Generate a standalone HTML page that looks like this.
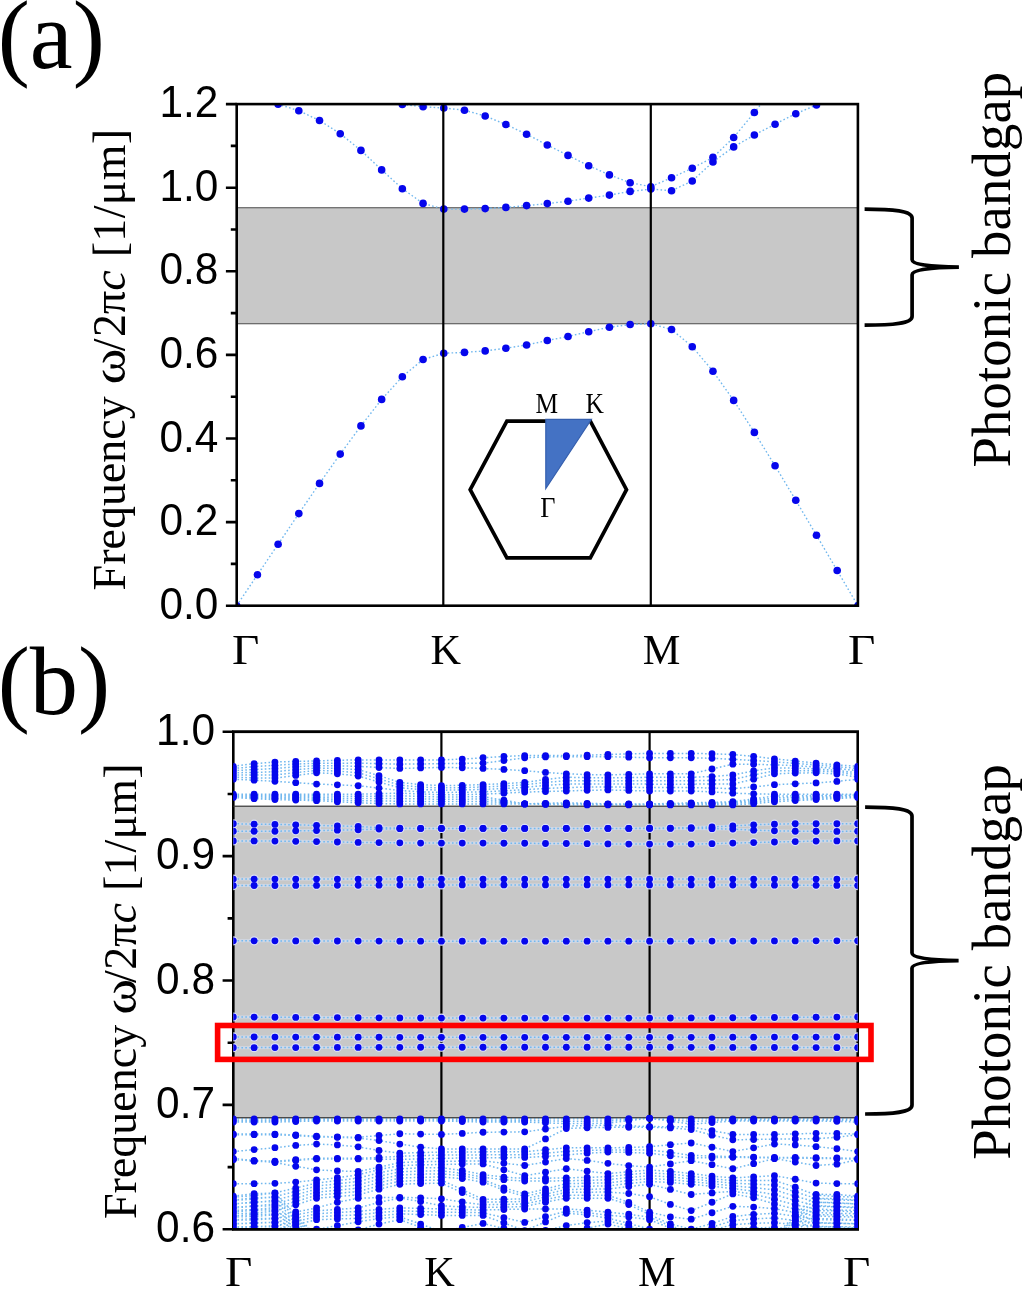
<!DOCTYPE html>
<html><head><meta charset="utf-8"><title>Photonic band structure</title>
<style>
html,body{margin:0;padding:0;background:#fff;}
svg{display:block;}
</style></head>
<body>
<svg width="1025" height="1290" viewBox="0 0 1025 1290">
<rect width="1025" height="1290" fill="#fff"/>
<clipPath id="ca"><rect x="236.7" y="104.1" width="621.2" height="501.6"/></clipPath>
<rect x="236.7" y="207.8" width="621.2" height="115.9" fill="#c8c8c8"/>
<path d="M236.7 207.8H857.9M236.7 323.7H857.9" stroke="#4a4a4a" stroke-width="1.1" fill="none"/>
<g clip-path="url(#ca)">
<path d="M236.7 605.7 L257.41 574.8 L278.11 544.3 L298.82 513.6 L319.53 483.4 L340.23 454.1 L360.94 425.9 L381.65 399.4 L402.35 376.7 L423.06 359.5 L443.77 353.2 L464.47 352.4 L485.18 350.9 L505.89 348.2 L526.59 345 L547.3 340.5 L568.01 336.5 L588.71 331.7 L609.42 327.2 L630.13 324.5 L650.83 323.7 L671.54 329.5 L692.25 346.7 L712.95 371.2 L733.66 400.4 L754.37 432.4 L775.07 465.8 L795.78 500.3 L816.49 535.3 L837.19 570.5 L857.9 605.7" fill="none" stroke="#72b8ee" stroke-width="1.4" stroke-dasharray="1.6 2.3"/>
<path d="M236.7 82 L257.41 92 L278.11 104.2 L298.82 110.7 L319.53 120.5 L340.23 133.7 L360.94 150.4 L381.65 169.9 L402.35 188.7 L423.06 203.4 L443.77 209.1 L464.47 209.1 L485.18 208.6 L505.89 207.4 L526.59 205.6 L547.3 203.6 L568.01 201.2 L588.71 198.1 L609.42 195.1 L630.13 191.4 L650.83 189.1 L671.54 190.7 L692.25 181 L712.95 161.9 L733.66 146.9 L754.37 135 L775.07 124.2 L795.78 113.7 L816.49 105 L837.19 97 L857.9 90" fill="none" stroke="#72b8ee" stroke-width="1.4" stroke-dasharray="1.6 2.3"/>
<path d="M360.94 94 L381.65 99 L402.35 104.5 L423.06 106.7 L443.77 108 L464.47 110.2 L485.18 116 L505.89 124.5 L526.59 134.2 L547.3 145 L568.01 155.4 L588.71 165.7 L609.42 174.9 L630.13 182.7 L650.83 186.7 L671.54 177.7 L692.25 168.2 L712.95 157.4 L733.66 137.5 L754.37 112.5 L775.07 86" fill="none" stroke="#72b8ee" stroke-width="1.4" stroke-dasharray="1.6 2.3"/>
<g fill="#0606ec">
<circle cx="236.7" cy="605.7" r="3.8"/>
<circle cx="257.41" cy="574.8" r="3.8"/>
<circle cx="278.11" cy="544.3" r="3.8"/>
<circle cx="298.82" cy="513.6" r="3.8"/>
<circle cx="319.53" cy="483.4" r="3.8"/>
<circle cx="340.23" cy="454.1" r="3.8"/>
<circle cx="360.94" cy="425.9" r="3.8"/>
<circle cx="381.65" cy="399.4" r="3.8"/>
<circle cx="402.35" cy="376.7" r="3.8"/>
<circle cx="423.06" cy="359.5" r="3.8"/>
<circle cx="443.77" cy="353.2" r="3.8"/>
<circle cx="464.47" cy="352.4" r="3.8"/>
<circle cx="485.18" cy="350.9" r="3.8"/>
<circle cx="505.89" cy="348.2" r="3.8"/>
<circle cx="526.59" cy="345" r="3.8"/>
<circle cx="547.3" cy="340.5" r="3.8"/>
<circle cx="568.01" cy="336.5" r="3.8"/>
<circle cx="588.71" cy="331.7" r="3.8"/>
<circle cx="609.42" cy="327.2" r="3.8"/>
<circle cx="630.13" cy="324.5" r="3.8"/>
<circle cx="650.83" cy="323.7" r="3.8"/>
<circle cx="671.54" cy="329.5" r="3.8"/>
<circle cx="692.25" cy="346.7" r="3.8"/>
<circle cx="712.95" cy="371.2" r="3.8"/>
<circle cx="733.66" cy="400.4" r="3.8"/>
<circle cx="754.37" cy="432.4" r="3.8"/>
<circle cx="775.07" cy="465.8" r="3.8"/>
<circle cx="795.78" cy="500.3" r="3.8"/>
<circle cx="816.49" cy="535.3" r="3.8"/>
<circle cx="837.19" cy="570.5" r="3.8"/>
<circle cx="857.9" cy="605.7" r="3.8"/>
<circle cx="236.7" cy="82" r="3.8"/>
<circle cx="257.41" cy="92" r="3.8"/>
<circle cx="278.11" cy="104.2" r="3.8"/>
<circle cx="298.82" cy="110.7" r="3.8"/>
<circle cx="319.53" cy="120.5" r="3.8"/>
<circle cx="340.23" cy="133.7" r="3.8"/>
<circle cx="360.94" cy="150.4" r="3.8"/>
<circle cx="381.65" cy="169.9" r="3.8"/>
<circle cx="402.35" cy="188.7" r="3.8"/>
<circle cx="423.06" cy="203.4" r="3.8"/>
<circle cx="443.77" cy="209.1" r="3.8"/>
<circle cx="464.47" cy="209.1" r="3.8"/>
<circle cx="485.18" cy="208.6" r="3.8"/>
<circle cx="505.89" cy="207.4" r="3.8"/>
<circle cx="526.59" cy="205.6" r="3.8"/>
<circle cx="547.3" cy="203.6" r="3.8"/>
<circle cx="568.01" cy="201.2" r="3.8"/>
<circle cx="588.71" cy="198.1" r="3.8"/>
<circle cx="609.42" cy="195.1" r="3.8"/>
<circle cx="630.13" cy="191.4" r="3.8"/>
<circle cx="650.83" cy="189.1" r="3.8"/>
<circle cx="671.54" cy="190.7" r="3.8"/>
<circle cx="692.25" cy="181" r="3.8"/>
<circle cx="712.95" cy="161.9" r="3.8"/>
<circle cx="733.66" cy="146.9" r="3.8"/>
<circle cx="754.37" cy="135" r="3.8"/>
<circle cx="775.07" cy="124.2" r="3.8"/>
<circle cx="795.78" cy="113.7" r="3.8"/>
<circle cx="816.49" cy="105" r="3.8"/>
<circle cx="837.19" cy="97" r="3.8"/>
<circle cx="857.9" cy="90" r="3.8"/>
<circle cx="360.94" cy="94" r="3.8"/>
<circle cx="381.65" cy="99" r="3.8"/>
<circle cx="402.35" cy="104.5" r="3.8"/>
<circle cx="423.06" cy="106.7" r="3.8"/>
<circle cx="443.77" cy="108" r="3.8"/>
<circle cx="464.47" cy="110.2" r="3.8"/>
<circle cx="485.18" cy="116" r="3.8"/>
<circle cx="505.89" cy="124.5" r="3.8"/>
<circle cx="526.59" cy="134.2" r="3.8"/>
<circle cx="547.3" cy="145" r="3.8"/>
<circle cx="568.01" cy="155.4" r="3.8"/>
<circle cx="588.71" cy="165.7" r="3.8"/>
<circle cx="609.42" cy="174.9" r="3.8"/>
<circle cx="630.13" cy="182.7" r="3.8"/>
<circle cx="650.83" cy="186.7" r="3.8"/>
<circle cx="671.54" cy="177.7" r="3.8"/>
<circle cx="692.25" cy="168.2" r="3.8"/>
<circle cx="712.95" cy="157.4" r="3.8"/>
<circle cx="733.66" cy="137.5" r="3.8"/>
<circle cx="754.37" cy="112.5" r="3.8"/>
<circle cx="775.07" cy="86" r="3.8"/>
</g></g>
<line x1="443.3" y1="104.1" x2="443.3" y2="605.7" stroke="#000" stroke-width="2.2"/>
<line x1="650.8" y1="104.1" x2="650.8" y2="605.7" stroke="#000" stroke-width="2.2"/>
<rect x="236.7" y="104.1" width="621.2" height="501.6" fill="none" stroke="#000" stroke-width="2.6"/>
<path d="M236.7 605.7H225.9M236.7 563.9H230.8M236.7 522.1H225.9M236.7 480.3H230.8M236.7 438.5H225.9M236.7 396.7H230.8M236.7 354.9H225.9M236.7 313.1H230.8M236.7 271.3H225.9M236.7 229.5H230.8M236.7 187.7H225.9M236.7 145.9H230.8M236.7 104.1H225.9" stroke="#000" stroke-width="2.6" fill="none"/>
<g font-family='"Liberation Sans", "DejaVu Sans", sans-serif' font-size="44.4" text-anchor="end" fill="#000">
<text transform="translate(218.4 618.7) scale(0.955 1)">0.0</text>
<text transform="translate(218.4 535.1) scale(0.955 1)">0.2</text>
<text transform="translate(218.4 451.5) scale(0.955 1)">0.4</text>
<text transform="translate(218.4 367.9) scale(0.955 1)">0.6</text>
<text transform="translate(218.4 284.3) scale(0.955 1)">0.8</text>
<text transform="translate(218.4 200.7) scale(0.955 1)">1.0</text>
<text transform="translate(218.4 117.1) scale(0.955 1)">1.2</text>
</g>
<text x="-2.3" y="68.3" font-family='"Liberation Serif", "DejaVu Serif", serif' font-size="96.5" fill="#000">(a)</text>
<g transform="translate(125.3 590.4) rotate(-90)" font-family='"Liberation Serif", "DejaVu Serif", serif' font-size="46" fill="#000">
<text x="0" y="0">Frequency</text>
<text x="205.9" y="0" textLength="35.8" lengthAdjust="spacingAndGlyphs">ω</text>
<text x="239.1" y="0">/<tspan dx="1.6">2π</tspan><tspan font-style="italic">c</tspan> <tspan dx="1.5" letter-spacing="0.3">[1/μm]</tspan></text>
</g>
<g font-family='"Liberation Serif", "DejaVu Serif", serif' font-size="42.3" fill="#000">
<text x="231.9" y="663.8" textLength="27.3" lengthAdjust="spacingAndGlyphs">Γ</text>
<text x="430.5" y="663.8">K</text>
<text x="642.7" y="663.8">M</text>
<text x="847.9" y="663.8" textLength="27.3" lengthAdjust="spacingAndGlyphs">Γ</text>
</g>
<path d="M864.6 209.1 C892.6 209.1 912.1 210.6 912.1 218.1 L912.1 259.65 C912.1 264.65 930.1 266.85 958.9 267.15 C930.1 267.45 912.1 269.65 912.1 274.65 L912.1 316.2 C912.1 323.7 892.6 325.2 864.6 325.2" fill="none" stroke="#000" stroke-width="3.7" stroke-linejoin="miter" stroke-miterlimit="10"/>
<text transform="translate(1009.7 467.6) rotate(-90)" font-family='"Liberation Serif", "DejaVu Serif", serif' font-size="54.6" fill="#000" letter-spacing="0.2">Photonic bandgap</text>
<polygon points="470.2,489.7 506.9,421.1 590.3,421.1 626.5,489.7 590.3,557.9 506.9,557.9" fill="none" stroke="#000" stroke-width="3.7" stroke-linejoin="miter"/>
<polygon points="545.8,419.3 591.4,419.3 545.8,488.6" fill="#4472c4" stroke="#355fae" stroke-width="1.2" stroke-linejoin="miter"/>
<g font-family='"Liberation Serif", "DejaVu Serif", serif' font-size="28.6" fill="#000">
<text x="535.6" y="413" textLength="22.6" lengthAdjust="spacingAndGlyphs">M</text>
<text x="585.4" y="413" textLength="18.4" lengthAdjust="spacingAndGlyphs">K</text>
<text x="540.2" y="517.2" textLength="15.2" lengthAdjust="spacingAndGlyphs">Γ</text>
</g>
<clipPath id="cb"><rect x="233.3" y="731.8" width="624.4" height="497.5"/></clipPath>
<rect x="233.3" y="806.3" width="624.4" height="311.3" fill="#c8c8c8"/>
<path d="M233.3 806.3H857.7M233.3 1117.6H857.7" stroke="#4a4a4a" stroke-width="1.1" fill="none"/>
<line x1="441.4" y1="731.8" x2="441.4" y2="1229.3" stroke="#000" stroke-width="2.2"/>
<line x1="649.6" y1="731.8" x2="649.6" y2="1229.3" stroke="#000" stroke-width="2.2"/>
<rect x="233.3" y="731.8" width="624.4" height="497.5" fill="none" stroke="#000" stroke-width="2.6"/>
<g clip-path="url(#cb)">
<path d="M233.3 823.73L254.11 824.16L274.93 824.38L295.74 824.81L316.55 825.45L337.37 825.88L358.18 826.52L378.99 827.6L399.81 828.24L420.62 828.46L441.43 828.46L462.25 828.46L483.06 828.46L503.87 828.46L524.69 828.46L545.5 828.46L566.31 828.46L587.13 828.46L607.94 828.46L628.75 828.46L649.57 828.24L670.38 828.03L691.19 827.6L712.01 826.95L732.82 825.88L753.63 824.81L774.45 824.16L795.26 823.73L816.07 823.73L836.89 823.73L857.7 823.73M233.3 831.25L254.11 831.25L274.93 831.25L295.74 830.82L316.55 830.6L337.37 830.17L358.18 829.74L378.99 829.1L399.81 828.67L420.62 828.46L441.43 828.46L462.25 828.46L483.06 828.46L503.87 828.46L524.69 828.46L545.5 828.46L566.31 828.46L587.13 828.46L607.94 828.46L628.75 828.46L649.57 828.46L670.38 828.46L691.19 828.46L712.01 828.67L732.82 829.1L753.63 830.17L774.45 830.82L795.26 831.25L816.07 831.25L836.89 831.46L857.7 831.25M233.3 840.9L254.11 840.9L274.93 841.12L295.74 841.33L316.55 841.55L337.37 841.98L358.18 842.41L378.99 842.62L399.81 842.84L420.62 843.05L441.43 843.05L462.25 843.05L483.06 843.05L503.87 843.27L524.69 843.27L545.5 843.48L566.31 843.48L587.13 843.69L607.94 843.91L628.75 844.12L649.57 844.12L670.38 844.12L691.19 844.12L712.01 843.69L732.82 843.05L753.63 842.62L774.45 841.98L795.26 841.55L816.07 841.12L836.89 840.9L857.7 840.9M233.3 879.11L254.11 879.11L274.93 879.11L295.74 879.11L316.55 879.11L337.37 879.11L358.18 879.11L378.99 879.11L399.81 879.11L420.62 879.11L441.43 879.11L462.25 879.11L483.06 879.11L503.87 879.11L524.69 879.11L545.5 879.11L566.31 879.11L587.13 879.11L607.94 879.11L628.75 879.11L649.57 879.11L670.38 879.11L691.19 879.11L712.01 879.11L732.82 879.11L753.63 879.11L774.45 879.11L795.26 879.11L816.07 879.11L836.89 879.11L857.7 879.11M233.3 885.55L254.11 885.52L274.93 885.49L295.74 885.44L316.55 885.39L337.37 885.33L358.18 885.25L378.99 885.14L399.81 885.03L420.62 884.94L441.43 884.91L462.25 884.91L483.06 884.91L503.87 884.91L524.69 884.91L545.5 884.91L566.31 884.91L587.13 884.91L607.94 884.91L628.75 884.91L649.57 884.91L670.38 884.92L691.19 884.95L712.01 885L732.82 885.06L753.63 885.12L774.45 885.18L795.26 885.26L816.07 885.35L836.89 885.45L857.7 885.55M233.3 940.78L254.11 940.82L274.93 940.87L295.74 940.91L316.55 940.95L337.37 941L358.18 941.05L378.99 941.1L399.81 941.16L420.62 941.2L441.43 941.21L462.25 941.21L483.06 941.21L503.87 941.21L524.69 941.21L545.5 941.21L566.31 941.21L587.13 941.21L607.94 941.21L628.75 941.21L649.57 941.21L670.38 941.2L691.19 941.16L712.01 941.1L732.82 941.05L753.63 941L774.45 940.95L795.26 940.91L816.07 940.87L836.89 940.82L857.7 940.78M233.3 1016.98L254.11 1017.12L274.93 1017.26L295.74 1017.39L316.55 1017.51L337.37 1017.62L358.18 1017.73L378.99 1017.85L399.81 1017.95L420.62 1018.02L441.43 1018.05L462.25 1018.05L483.06 1018.05L503.87 1018.05L524.69 1018.05L545.5 1018.05L566.31 1018.05L587.13 1018.05L607.94 1018.05L628.75 1018.05L649.57 1018.05L670.38 1018.02L691.19 1017.95L712.01 1017.85L732.82 1017.73L753.63 1017.62L774.45 1017.51L795.26 1017.39L816.07 1017.26L836.89 1017.12L857.7 1016.98M233.3 1036.94L254.11 1036.98L274.93 1037.03L295.74 1037.07L316.55 1037.11L337.37 1037.15L358.18 1037.2L378.99 1037.26L399.81 1037.31L420.62 1037.35L441.43 1037.37L462.25 1037.37L483.06 1037.37L503.87 1037.37L524.69 1037.37L545.5 1037.37L566.31 1037.37L587.13 1037.37L607.94 1037.37L628.75 1037.37L649.57 1037.37L670.38 1037.35L691.19 1037.31L712.01 1037.26L732.82 1037.2L753.63 1037.15L774.45 1037.11L795.26 1037.07L816.07 1037.03L836.89 1036.98L857.7 1036.94M233.3 1047.67L254.11 1047.63L274.93 1047.59L295.74 1047.54L316.55 1047.5L337.37 1047.46L358.18 1047.41L378.99 1047.35L399.81 1047.3L420.62 1047.26L441.43 1047.24L462.25 1047.24L483.06 1047.24L503.87 1047.24L524.69 1047.24L545.5 1047.24L566.31 1047.24L587.13 1047.24L607.94 1047.24L628.75 1047.24L649.57 1047.24L670.38 1047.26L691.19 1047.3L712.01 1047.35L732.82 1047.41L753.63 1047.46L774.45 1047.5L795.26 1047.54L816.07 1047.59L836.89 1047.63L857.7 1047.67" fill="none" stroke="#d3def0" stroke-width="3" opacity="0.75"/>
<g fill="#dcdff8">
<circle cx="233.3" cy="823.73" r="4.6"/>
<circle cx="254.11" cy="824.16" r="4.6"/>
<circle cx="274.93" cy="824.38" r="4.6"/>
<circle cx="295.74" cy="824.81" r="4.6"/>
<circle cx="316.55" cy="825.45" r="4.6"/>
<circle cx="337.37" cy="825.88" r="4.6"/>
<circle cx="358.18" cy="826.52" r="4.6"/>
<circle cx="378.99" cy="827.6" r="4.6"/>
<circle cx="399.81" cy="828.24" r="4.6"/>
<circle cx="420.62" cy="828.46" r="4.6"/>
<circle cx="441.43" cy="828.46" r="4.6"/>
<circle cx="462.25" cy="828.46" r="4.6"/>
<circle cx="483.06" cy="828.46" r="4.6"/>
<circle cx="503.87" cy="828.46" r="4.6"/>
<circle cx="524.69" cy="828.46" r="4.6"/>
<circle cx="545.5" cy="828.46" r="4.6"/>
<circle cx="566.31" cy="828.46" r="4.6"/>
<circle cx="587.13" cy="828.46" r="4.6"/>
<circle cx="607.94" cy="828.46" r="4.6"/>
<circle cx="628.75" cy="828.46" r="4.6"/>
<circle cx="649.57" cy="828.24" r="4.6"/>
<circle cx="670.38" cy="828.03" r="4.6"/>
<circle cx="691.19" cy="827.6" r="4.6"/>
<circle cx="712.01" cy="826.95" r="4.6"/>
<circle cx="732.82" cy="825.88" r="4.6"/>
<circle cx="753.63" cy="824.81" r="4.6"/>
<circle cx="774.45" cy="824.16" r="4.6"/>
<circle cx="795.26" cy="823.73" r="4.6"/>
<circle cx="816.07" cy="823.73" r="4.6"/>
<circle cx="836.89" cy="823.73" r="4.6"/>
<circle cx="857.7" cy="823.73" r="4.6"/>
<circle cx="233.3" cy="831.25" r="4.6"/>
<circle cx="254.11" cy="831.25" r="4.6"/>
<circle cx="274.93" cy="831.25" r="4.6"/>
<circle cx="295.74" cy="830.82" r="4.6"/>
<circle cx="316.55" cy="830.6" r="4.6"/>
<circle cx="337.37" cy="830.17" r="4.6"/>
<circle cx="358.18" cy="829.74" r="4.6"/>
<circle cx="378.99" cy="829.1" r="4.6"/>
<circle cx="399.81" cy="828.67" r="4.6"/>
<circle cx="420.62" cy="828.46" r="4.6"/>
<circle cx="441.43" cy="828.46" r="4.6"/>
<circle cx="462.25" cy="828.46" r="4.6"/>
<circle cx="483.06" cy="828.46" r="4.6"/>
<circle cx="503.87" cy="828.46" r="4.6"/>
<circle cx="524.69" cy="828.46" r="4.6"/>
<circle cx="545.5" cy="828.46" r="4.6"/>
<circle cx="566.31" cy="828.46" r="4.6"/>
<circle cx="587.13" cy="828.46" r="4.6"/>
<circle cx="607.94" cy="828.46" r="4.6"/>
<circle cx="628.75" cy="828.46" r="4.6"/>
<circle cx="649.57" cy="828.46" r="4.6"/>
<circle cx="670.38" cy="828.46" r="4.6"/>
<circle cx="691.19" cy="828.46" r="4.6"/>
<circle cx="712.01" cy="828.67" r="4.6"/>
<circle cx="732.82" cy="829.1" r="4.6"/>
<circle cx="753.63" cy="830.17" r="4.6"/>
<circle cx="774.45" cy="830.82" r="4.6"/>
<circle cx="795.26" cy="831.25" r="4.6"/>
<circle cx="816.07" cy="831.25" r="4.6"/>
<circle cx="836.89" cy="831.46" r="4.6"/>
<circle cx="857.7" cy="831.25" r="4.6"/>
<circle cx="233.3" cy="840.9" r="4.6"/>
<circle cx="254.11" cy="840.9" r="4.6"/>
<circle cx="274.93" cy="841.12" r="4.6"/>
<circle cx="295.74" cy="841.33" r="4.6"/>
<circle cx="316.55" cy="841.55" r="4.6"/>
<circle cx="337.37" cy="841.98" r="4.6"/>
<circle cx="358.18" cy="842.41" r="4.6"/>
<circle cx="378.99" cy="842.62" r="4.6"/>
<circle cx="399.81" cy="842.84" r="4.6"/>
<circle cx="420.62" cy="843.05" r="4.6"/>
<circle cx="441.43" cy="843.05" r="4.6"/>
<circle cx="462.25" cy="843.05" r="4.6"/>
<circle cx="483.06" cy="843.05" r="4.6"/>
<circle cx="503.87" cy="843.27" r="4.6"/>
<circle cx="524.69" cy="843.27" r="4.6"/>
<circle cx="545.5" cy="843.48" r="4.6"/>
<circle cx="566.31" cy="843.48" r="4.6"/>
<circle cx="587.13" cy="843.69" r="4.6"/>
<circle cx="607.94" cy="843.91" r="4.6"/>
<circle cx="628.75" cy="844.12" r="4.6"/>
<circle cx="649.57" cy="844.12" r="4.6"/>
<circle cx="670.38" cy="844.12" r="4.6"/>
<circle cx="691.19" cy="844.12" r="4.6"/>
<circle cx="712.01" cy="843.69" r="4.6"/>
<circle cx="732.82" cy="843.05" r="4.6"/>
<circle cx="753.63" cy="842.62" r="4.6"/>
<circle cx="774.45" cy="841.98" r="4.6"/>
<circle cx="795.26" cy="841.55" r="4.6"/>
<circle cx="816.07" cy="841.12" r="4.6"/>
<circle cx="836.89" cy="840.9" r="4.6"/>
<circle cx="857.7" cy="840.9" r="4.6"/>
<circle cx="233.3" cy="879.11" r="4.6"/>
<circle cx="254.11" cy="879.11" r="4.6"/>
<circle cx="274.93" cy="879.11" r="4.6"/>
<circle cx="295.74" cy="879.11" r="4.6"/>
<circle cx="316.55" cy="879.11" r="4.6"/>
<circle cx="337.37" cy="879.11" r="4.6"/>
<circle cx="358.18" cy="879.11" r="4.6"/>
<circle cx="378.99" cy="879.11" r="4.6"/>
<circle cx="399.81" cy="879.11" r="4.6"/>
<circle cx="420.62" cy="879.11" r="4.6"/>
<circle cx="441.43" cy="879.11" r="4.6"/>
<circle cx="462.25" cy="879.11" r="4.6"/>
<circle cx="483.06" cy="879.11" r="4.6"/>
<circle cx="503.87" cy="879.11" r="4.6"/>
<circle cx="524.69" cy="879.11" r="4.6"/>
<circle cx="545.5" cy="879.11" r="4.6"/>
<circle cx="566.31" cy="879.11" r="4.6"/>
<circle cx="587.13" cy="879.11" r="4.6"/>
<circle cx="607.94" cy="879.11" r="4.6"/>
<circle cx="628.75" cy="879.11" r="4.6"/>
<circle cx="649.57" cy="879.11" r="4.6"/>
<circle cx="670.38" cy="879.11" r="4.6"/>
<circle cx="691.19" cy="879.11" r="4.6"/>
<circle cx="712.01" cy="879.11" r="4.6"/>
<circle cx="732.82" cy="879.11" r="4.6"/>
<circle cx="753.63" cy="879.11" r="4.6"/>
<circle cx="774.45" cy="879.11" r="4.6"/>
<circle cx="795.26" cy="879.11" r="4.6"/>
<circle cx="816.07" cy="879.11" r="4.6"/>
<circle cx="836.89" cy="879.11" r="4.6"/>
<circle cx="857.7" cy="879.11" r="4.6"/>
<circle cx="233.3" cy="885.55" r="4.6"/>
<circle cx="254.11" cy="885.52" r="4.6"/>
<circle cx="274.93" cy="885.49" r="4.6"/>
<circle cx="295.74" cy="885.44" r="4.6"/>
<circle cx="316.55" cy="885.39" r="4.6"/>
<circle cx="337.37" cy="885.33" r="4.6"/>
<circle cx="358.18" cy="885.25" r="4.6"/>
<circle cx="378.99" cy="885.14" r="4.6"/>
<circle cx="399.81" cy="885.03" r="4.6"/>
<circle cx="420.62" cy="884.94" r="4.6"/>
<circle cx="441.43" cy="884.91" r="4.6"/>
<circle cx="462.25" cy="884.91" r="4.6"/>
<circle cx="483.06" cy="884.91" r="4.6"/>
<circle cx="503.87" cy="884.91" r="4.6"/>
<circle cx="524.69" cy="884.91" r="4.6"/>
<circle cx="545.5" cy="884.91" r="4.6"/>
<circle cx="566.31" cy="884.91" r="4.6"/>
<circle cx="587.13" cy="884.91" r="4.6"/>
<circle cx="607.94" cy="884.91" r="4.6"/>
<circle cx="628.75" cy="884.91" r="4.6"/>
<circle cx="649.57" cy="884.91" r="4.6"/>
<circle cx="670.38" cy="884.92" r="4.6"/>
<circle cx="691.19" cy="884.95" r="4.6"/>
<circle cx="712.01" cy="885" r="4.6"/>
<circle cx="732.82" cy="885.06" r="4.6"/>
<circle cx="753.63" cy="885.12" r="4.6"/>
<circle cx="774.45" cy="885.18" r="4.6"/>
<circle cx="795.26" cy="885.26" r="4.6"/>
<circle cx="816.07" cy="885.35" r="4.6"/>
<circle cx="836.89" cy="885.45" r="4.6"/>
<circle cx="857.7" cy="885.55" r="4.6"/>
<circle cx="233.3" cy="940.78" r="4.6"/>
<circle cx="254.11" cy="940.82" r="4.6"/>
<circle cx="274.93" cy="940.87" r="4.6"/>
<circle cx="295.74" cy="940.91" r="4.6"/>
<circle cx="316.55" cy="940.95" r="4.6"/>
<circle cx="337.37" cy="941" r="4.6"/>
<circle cx="358.18" cy="941.05" r="4.6"/>
<circle cx="378.99" cy="941.1" r="4.6"/>
<circle cx="399.81" cy="941.16" r="4.6"/>
<circle cx="420.62" cy="941.2" r="4.6"/>
<circle cx="441.43" cy="941.21" r="4.6"/>
<circle cx="462.25" cy="941.21" r="4.6"/>
<circle cx="483.06" cy="941.21" r="4.6"/>
<circle cx="503.87" cy="941.21" r="4.6"/>
<circle cx="524.69" cy="941.21" r="4.6"/>
<circle cx="545.5" cy="941.21" r="4.6"/>
<circle cx="566.31" cy="941.21" r="4.6"/>
<circle cx="587.13" cy="941.21" r="4.6"/>
<circle cx="607.94" cy="941.21" r="4.6"/>
<circle cx="628.75" cy="941.21" r="4.6"/>
<circle cx="649.57" cy="941.21" r="4.6"/>
<circle cx="670.38" cy="941.2" r="4.6"/>
<circle cx="691.19" cy="941.16" r="4.6"/>
<circle cx="712.01" cy="941.1" r="4.6"/>
<circle cx="732.82" cy="941.05" r="4.6"/>
<circle cx="753.63" cy="941" r="4.6"/>
<circle cx="774.45" cy="940.95" r="4.6"/>
<circle cx="795.26" cy="940.91" r="4.6"/>
<circle cx="816.07" cy="940.87" r="4.6"/>
<circle cx="836.89" cy="940.82" r="4.6"/>
<circle cx="857.7" cy="940.78" r="4.6"/>
<circle cx="233.3" cy="1016.98" r="4.6"/>
<circle cx="254.11" cy="1017.12" r="4.6"/>
<circle cx="274.93" cy="1017.26" r="4.6"/>
<circle cx="295.74" cy="1017.39" r="4.6"/>
<circle cx="316.55" cy="1017.51" r="4.6"/>
<circle cx="337.37" cy="1017.62" r="4.6"/>
<circle cx="358.18" cy="1017.73" r="4.6"/>
<circle cx="378.99" cy="1017.85" r="4.6"/>
<circle cx="399.81" cy="1017.95" r="4.6"/>
<circle cx="420.62" cy="1018.02" r="4.6"/>
<circle cx="441.43" cy="1018.05" r="4.6"/>
<circle cx="462.25" cy="1018.05" r="4.6"/>
<circle cx="483.06" cy="1018.05" r="4.6"/>
<circle cx="503.87" cy="1018.05" r="4.6"/>
<circle cx="524.69" cy="1018.05" r="4.6"/>
<circle cx="545.5" cy="1018.05" r="4.6"/>
<circle cx="566.31" cy="1018.05" r="4.6"/>
<circle cx="587.13" cy="1018.05" r="4.6"/>
<circle cx="607.94" cy="1018.05" r="4.6"/>
<circle cx="628.75" cy="1018.05" r="4.6"/>
<circle cx="649.57" cy="1018.05" r="4.6"/>
<circle cx="670.38" cy="1018.02" r="4.6"/>
<circle cx="691.19" cy="1017.95" r="4.6"/>
<circle cx="712.01" cy="1017.85" r="4.6"/>
<circle cx="732.82" cy="1017.73" r="4.6"/>
<circle cx="753.63" cy="1017.62" r="4.6"/>
<circle cx="774.45" cy="1017.51" r="4.6"/>
<circle cx="795.26" cy="1017.39" r="4.6"/>
<circle cx="816.07" cy="1017.26" r="4.6"/>
<circle cx="836.89" cy="1017.12" r="4.6"/>
<circle cx="857.7" cy="1016.98" r="4.6"/>
<circle cx="233.3" cy="1036.94" r="4.6"/>
<circle cx="254.11" cy="1036.98" r="4.6"/>
<circle cx="274.93" cy="1037.03" r="4.6"/>
<circle cx="295.74" cy="1037.07" r="4.6"/>
<circle cx="316.55" cy="1037.11" r="4.6"/>
<circle cx="337.37" cy="1037.15" r="4.6"/>
<circle cx="358.18" cy="1037.2" r="4.6"/>
<circle cx="378.99" cy="1037.26" r="4.6"/>
<circle cx="399.81" cy="1037.31" r="4.6"/>
<circle cx="420.62" cy="1037.35" r="4.6"/>
<circle cx="441.43" cy="1037.37" r="4.6"/>
<circle cx="462.25" cy="1037.37" r="4.6"/>
<circle cx="483.06" cy="1037.37" r="4.6"/>
<circle cx="503.87" cy="1037.37" r="4.6"/>
<circle cx="524.69" cy="1037.37" r="4.6"/>
<circle cx="545.5" cy="1037.37" r="4.6"/>
<circle cx="566.31" cy="1037.37" r="4.6"/>
<circle cx="587.13" cy="1037.37" r="4.6"/>
<circle cx="607.94" cy="1037.37" r="4.6"/>
<circle cx="628.75" cy="1037.37" r="4.6"/>
<circle cx="649.57" cy="1037.37" r="4.6"/>
<circle cx="670.38" cy="1037.35" r="4.6"/>
<circle cx="691.19" cy="1037.31" r="4.6"/>
<circle cx="712.01" cy="1037.26" r="4.6"/>
<circle cx="732.82" cy="1037.2" r="4.6"/>
<circle cx="753.63" cy="1037.15" r="4.6"/>
<circle cx="774.45" cy="1037.11" r="4.6"/>
<circle cx="795.26" cy="1037.07" r="4.6"/>
<circle cx="816.07" cy="1037.03" r="4.6"/>
<circle cx="836.89" cy="1036.98" r="4.6"/>
<circle cx="857.7" cy="1036.94" r="4.6"/>
<circle cx="233.3" cy="1047.67" r="4.6"/>
<circle cx="254.11" cy="1047.63" r="4.6"/>
<circle cx="274.93" cy="1047.59" r="4.6"/>
<circle cx="295.74" cy="1047.54" r="4.6"/>
<circle cx="316.55" cy="1047.5" r="4.6"/>
<circle cx="337.37" cy="1047.46" r="4.6"/>
<circle cx="358.18" cy="1047.41" r="4.6"/>
<circle cx="378.99" cy="1047.35" r="4.6"/>
<circle cx="399.81" cy="1047.3" r="4.6"/>
<circle cx="420.62" cy="1047.26" r="4.6"/>
<circle cx="441.43" cy="1047.24" r="4.6"/>
<circle cx="462.25" cy="1047.24" r="4.6"/>
<circle cx="483.06" cy="1047.24" r="4.6"/>
<circle cx="503.87" cy="1047.24" r="4.6"/>
<circle cx="524.69" cy="1047.24" r="4.6"/>
<circle cx="545.5" cy="1047.24" r="4.6"/>
<circle cx="566.31" cy="1047.24" r="4.6"/>
<circle cx="587.13" cy="1047.24" r="4.6"/>
<circle cx="607.94" cy="1047.24" r="4.6"/>
<circle cx="628.75" cy="1047.24" r="4.6"/>
<circle cx="649.57" cy="1047.24" r="4.6"/>
<circle cx="670.38" cy="1047.26" r="4.6"/>
<circle cx="691.19" cy="1047.3" r="4.6"/>
<circle cx="712.01" cy="1047.35" r="4.6"/>
<circle cx="732.82" cy="1047.41" r="4.6"/>
<circle cx="753.63" cy="1047.46" r="4.6"/>
<circle cx="774.45" cy="1047.5" r="4.6"/>
<circle cx="795.26" cy="1047.54" r="4.6"/>
<circle cx="816.07" cy="1047.59" r="4.6"/>
<circle cx="836.89" cy="1047.63" r="4.6"/>
<circle cx="857.7" cy="1047.67" r="4.6"/>
</g>
<path d="M233.3 766.32L254.11 763.65L274.93 762.03L295.74 761.41L316.55 760.95L337.37 760.28L358.18 759.88L378.99 759.88L399.81 759.88L420.62 759.88L441.43 759.88L462.25 759.07L483.06 757.73L503.87 756.39L524.69 755.59L545.5 755.59L566.31 755.59L587.13 755.18L607.94 754.51L628.75 753.84L649.57 753.44L670.38 753.44L691.19 753.44L712.01 753.76L732.82 754.51L753.63 756.34L774.45 758.81L795.26 761.03L816.07 763.1L836.89 764.83L857.7 766.32M233.3 768.46L254.11 766.67L274.93 765.24L295.74 764.03L316.55 763.31L337.37 763.16L358.18 763.1L378.99 763.63L399.81 764.17L420.62 763.97L441.43 763.63L462.25 763.42L483.06 763.1L503.87 760.52L524.69 757.73L545.5 756.97L566.31 756.66L587.13 756.66L607.94 756.66L628.75 757.2L649.57 757.73L670.38 757.73L691.19 757.73L712.01 758.29L732.82 759.34L753.63 760.47L774.45 761.81L795.26 763.35L816.07 765.03L836.89 766.72L857.7 768.46M233.3 770.61L254.11 769.61L274.93 768.46L295.74 766.77L316.55 765.67L337.37 765.87L358.18 766.32L378.99 767.51L399.81 768.46L420.62 767.93L441.43 767.39L462.25 767.75L483.06 768.46L503.87 769.45L524.69 770.72L545.5 772.4L566.31 773.83L587.13 774.57L607.94 774.9L628.75 774.37L649.57 773.83L670.38 773.83L691.19 773.83L712.01 769L732.82 764.17L753.63 764.37L774.45 764.82L795.26 765.67L816.07 766.96L836.89 768.57L857.7 770.61M233.3 772.76L254.11 772.43L274.93 771.68L295.74 769.65L316.55 768.03L337.37 768.45L358.18 769.54L378.99 775.67L399.81 782.42L420.62 784.67L441.43 785.64L462.25 785.28L483.06 784.56L503.87 783.69L524.69 782.42L545.5 779.46L566.31 777.26L587.13 777.59L607.94 777.91L628.75 777.59L649.57 777.26L670.38 777.26L691.19 777.26L712.01 776.53L732.82 774.9L753.63 770.92L774.45 767.82L795.26 768.15L816.07 768.89L836.89 770.38L857.7 772.76M233.3 774.9L254.11 774.9L274.93 774.9L295.74 772.65L316.55 770.4L337.37 771.08L358.18 772.76L378.99 778.85L399.81 785.1L420.62 787.08L441.43 787.92L462.25 787.61L483.06 786.98L503.87 786.09L524.69 784.83L545.5 782.41L566.31 780.7L587.13 780.81L607.94 780.91L628.75 780.81L649.57 780.7L670.38 780.7L691.19 780.7L712.01 780.35L732.82 779.46L753.63 774.87L774.45 770.83L795.26 770.83L816.07 770.83L836.89 772.1L857.7 774.9M233.3 777.05L254.11 777.99L274.93 778.12L295.74 775.44L316.55 772.76L337.37 773.73L358.18 775.98L378.99 782.01L399.81 787.78L420.62 789.49L441.43 790.2L462.25 789.94L483.06 789.39L503.87 788.49L524.69 787.25L545.5 785.42L566.31 784.13L587.13 783.98L607.94 783.92L628.75 784.03L649.57 784.13L670.38 784.13L691.19 784.13L712.01 784.11L732.82 784.03L753.63 779.14L774.45 773.83L795.26 773.05L816.07 772.76L836.89 774.03L857.7 777.05M233.3 779.2L254.11 780.21L274.93 781.34L295.74 782.72L316.55 784.03L337.37 784.83L358.18 785.74L378.99 788.07L399.81 790.46L420.62 791.82L441.43 792.48L462.25 792.27L483.06 791.81L503.87 790.87L524.69 789.66L545.5 788.47L566.31 787.57L587.13 787.12L607.94 786.92L628.75 787.25L649.57 787.57L670.38 787.57L691.19 787.57L712.01 788.08L732.82 788.59L753.63 786.93L774.45 784.67L795.26 783.81L816.07 782.95L836.89 781.38L857.7 779.2M233.3 794.22L254.11 794.22L274.93 794.22L295.74 794.22L316.55 794.22L337.37 794.22L358.18 794.22L378.99 793.68L399.81 793.15L420.62 793.95L441.43 794.76L462.25 794.6L483.06 794.22L503.87 793.22L524.69 792.07L545.5 791.49L566.31 791L587.13 790.33L607.94 789.93L628.75 790.46L649.57 791L670.38 791L691.19 791L712.01 791.9L732.82 793.15L753.63 793.86L774.45 794.22L795.26 794.22L816.07 794.22L836.89 794.22L857.7 794.22M233.3 795.03L254.11 795.33L274.93 795.56L295.74 795.7L316.55 795.83L337.37 796.14L358.18 796.37L378.99 796.1L399.81 795.83L420.62 796.43L441.43 797.04L462.25 796.84L483.06 796.64L503.87 800.26L524.69 803.88L545.5 803.34L566.31 802.81L587.13 803.34L607.94 803.88L628.75 803.88L649.57 803.88L670.38 803.48L691.19 802.81L712.01 802.36L732.82 801.73L753.63 798.81L774.45 796.1L795.26 795.78L816.07 795.56L836.89 795.29L857.7 795.03M233.3 795.83L254.11 796.45L274.93 796.9L295.74 797.17L316.55 797.44L337.37 798.07L358.18 798.51L378.99 798.51L399.81 798.51L420.62 798.92L441.43 799.32L462.25 799.18L483.06 799.05L503.87 801.46L524.69 803.88L545.5 803.7L566.31 803.52L587.13 803.88L607.94 804.24L628.75 804.24L649.57 804.24L670.38 803.97L691.19 803.52L712.01 803.23L732.82 802.81L753.63 800.46L774.45 797.98L795.26 797.36L816.07 796.9L836.89 796.37L857.7 795.83M233.3 796.64L254.11 797.56L274.93 798.25L295.74 798.65L316.55 799.05L337.37 799.89L358.18 800.66L378.99 800.97L399.81 801.2L420.62 801.46L441.43 801.6L462.25 801.53L483.06 801.46L503.87 802.59L524.69 803.88L545.5 804.09L566.31 804.24L587.13 804.46L607.94 804.6L628.75 804.6L649.57 804.6L670.38 804.46L691.19 804.24L712.01 804.1L732.82 803.88L753.63 802.07L774.45 799.86L795.26 798.96L816.07 798.25L836.89 797.44L857.7 796.64M233.3 797.44L254.11 798.67L274.93 799.59L295.74 800.12L316.55 800.66L337.37 801.73L358.18 802.81L378.99 803.52L399.81 803.88L420.62 803.88L441.43 803.88L462.25 803.88L483.06 803.88L503.87 803.88L524.69 803.88L545.5 804.42L566.31 804.95L587.13 804.95L607.94 804.95L628.75 804.95L649.57 804.95L670.38 804.95L691.19 804.95L712.01 804.95L732.82 804.95L753.63 803.66L774.45 801.73L795.26 800.61L816.07 799.59L836.89 798.51L857.7 797.44M233.3 823.73L254.11 824.16L274.93 824.38L295.74 824.81L316.55 825.45L337.37 825.88L358.18 826.52L378.99 827.6L399.81 828.24L420.62 828.46L441.43 828.46L462.25 828.46L483.06 828.46L503.87 828.46L524.69 828.46L545.5 828.46L566.31 828.46L587.13 828.46L607.94 828.46L628.75 828.46L649.57 828.24L670.38 828.03L691.19 827.6L712.01 826.95L732.82 825.88L753.63 824.81L774.45 824.16L795.26 823.73L816.07 823.73L836.89 823.73L857.7 823.73M233.3 831.25L254.11 831.25L274.93 831.25L295.74 830.82L316.55 830.6L337.37 830.17L358.18 829.74L378.99 829.1L399.81 828.67L420.62 828.46L441.43 828.46L462.25 828.46L483.06 828.46L503.87 828.46L524.69 828.46L545.5 828.46L566.31 828.46L587.13 828.46L607.94 828.46L628.75 828.46L649.57 828.46L670.38 828.46L691.19 828.46L712.01 828.67L732.82 829.1L753.63 830.17L774.45 830.82L795.26 831.25L816.07 831.25L836.89 831.46L857.7 831.25M233.3 840.9L254.11 840.9L274.93 841.12L295.74 841.33L316.55 841.55L337.37 841.98L358.18 842.41L378.99 842.62L399.81 842.84L420.62 843.05L441.43 843.05L462.25 843.05L483.06 843.05L503.87 843.27L524.69 843.27L545.5 843.48L566.31 843.48L587.13 843.69L607.94 843.91L628.75 844.12L649.57 844.12L670.38 844.12L691.19 844.12L712.01 843.69L732.82 843.05L753.63 842.62L774.45 841.98L795.26 841.55L816.07 841.12L836.89 840.9L857.7 840.9M233.3 879.11L254.11 879.11L274.93 879.11L295.74 879.11L316.55 879.11L337.37 879.11L358.18 879.11L378.99 879.11L399.81 879.11L420.62 879.11L441.43 879.11L462.25 879.11L483.06 879.11L503.87 879.11L524.69 879.11L545.5 879.11L566.31 879.11L587.13 879.11L607.94 879.11L628.75 879.11L649.57 879.11L670.38 879.11L691.19 879.11L712.01 879.11L732.82 879.11L753.63 879.11L774.45 879.11L795.26 879.11L816.07 879.11L836.89 879.11L857.7 879.11M233.3 885.55L254.11 885.52L274.93 885.49L295.74 885.44L316.55 885.39L337.37 885.33L358.18 885.25L378.99 885.14L399.81 885.03L420.62 884.94L441.43 884.91L462.25 884.91L483.06 884.91L503.87 884.91L524.69 884.91L545.5 884.91L566.31 884.91L587.13 884.91L607.94 884.91L628.75 884.91L649.57 884.91L670.38 884.92L691.19 884.95L712.01 885L732.82 885.06L753.63 885.12L774.45 885.18L795.26 885.26L816.07 885.35L836.89 885.45L857.7 885.55M233.3 940.78L254.11 940.82L274.93 940.87L295.74 940.91L316.55 940.95L337.37 941L358.18 941.05L378.99 941.1L399.81 941.16L420.62 941.2L441.43 941.21L462.25 941.21L483.06 941.21L503.87 941.21L524.69 941.21L545.5 941.21L566.31 941.21L587.13 941.21L607.94 941.21L628.75 941.21L649.57 941.21L670.38 941.2L691.19 941.16L712.01 941.1L732.82 941.05L753.63 941L774.45 940.95L795.26 940.91L816.07 940.87L836.89 940.82L857.7 940.78M233.3 1016.98L254.11 1017.12L274.93 1017.26L295.74 1017.39L316.55 1017.51L337.37 1017.62L358.18 1017.73L378.99 1017.85L399.81 1017.95L420.62 1018.02L441.43 1018.05L462.25 1018.05L483.06 1018.05L503.87 1018.05L524.69 1018.05L545.5 1018.05L566.31 1018.05L587.13 1018.05L607.94 1018.05L628.75 1018.05L649.57 1018.05L670.38 1018.02L691.19 1017.95L712.01 1017.85L732.82 1017.73L753.63 1017.62L774.45 1017.51L795.26 1017.39L816.07 1017.26L836.89 1017.12L857.7 1016.98M233.3 1036.94L254.11 1036.98L274.93 1037.03L295.74 1037.07L316.55 1037.11L337.37 1037.15L358.18 1037.2L378.99 1037.26L399.81 1037.31L420.62 1037.35L441.43 1037.37L462.25 1037.37L483.06 1037.37L503.87 1037.37L524.69 1037.37L545.5 1037.37L566.31 1037.37L587.13 1037.37L607.94 1037.37L628.75 1037.37L649.57 1037.37L670.38 1037.35L691.19 1037.31L712.01 1037.26L732.82 1037.2L753.63 1037.15L774.45 1037.11L795.26 1037.07L816.07 1037.03L836.89 1036.98L857.7 1036.94M233.3 1047.67L254.11 1047.63L274.93 1047.59L295.74 1047.54L316.55 1047.5L337.37 1047.46L358.18 1047.41L378.99 1047.35L399.81 1047.3L420.62 1047.26L441.43 1047.24L462.25 1047.24L483.06 1047.24L503.87 1047.24L524.69 1047.24L545.5 1047.24L566.31 1047.24L587.13 1047.24L607.94 1047.24L628.75 1047.24L649.57 1047.24L670.38 1047.26L691.19 1047.3L712.01 1047.35L732.82 1047.41L753.63 1047.46L774.45 1047.5L795.26 1047.54L816.07 1047.59L836.89 1047.63L857.7 1047.67M233.3 1118.83L254.11 1118.83L274.93 1118.83L295.74 1118.83L316.55 1118.83L337.37 1118.83L358.18 1118.83L378.99 1118.83L399.81 1118.83L420.62 1118.83L441.43 1118.83L462.25 1118.83L483.06 1118.83L503.87 1118.83L524.69 1118.83L545.5 1118.83L566.31 1118.83L587.13 1118.83L607.94 1118.83L628.75 1118.56L649.57 1118.29L670.38 1118.56L691.19 1118.83L712.01 1118.83L732.82 1118.83L753.63 1118.83L774.45 1118.83L795.26 1118.83L816.07 1118.83L836.89 1118.83L857.7 1118.83M233.3 1120.44L254.11 1120.44L274.93 1120.44L295.74 1120.17L316.55 1119.9L337.37 1119.9L358.18 1119.9L378.99 1119.9L399.81 1119.9L420.62 1119.9L441.43 1119.9L462.25 1120.17L483.06 1120.44L503.87 1120.44L524.69 1120.44L545.5 1120.84L566.31 1121.24L587.13 1121.17L607.94 1120.98L628.75 1119.57L649.57 1118.29L670.38 1119.9L691.19 1121.51L712.01 1120.71L732.82 1119.9L753.63 1119.9L774.45 1119.9L795.26 1119.9L816.07 1119.9L836.89 1120.07L857.7 1120.44M233.3 1122.05L254.11 1122.05L274.93 1122.05L295.74 1121.51L316.55 1120.98L337.37 1120.98L358.18 1120.98L378.99 1120.98L399.81 1120.98L420.62 1120.98L441.43 1120.98L462.25 1121.51L483.06 1122.05L503.87 1122.05L524.69 1122.05L545.5 1122.85L566.31 1123.66L587.13 1123.51L607.94 1123.12L628.75 1120.59L649.57 1118.29L670.38 1121.24L691.19 1124.2L712.01 1122.59L732.82 1120.98L753.63 1120.98L774.45 1120.98L795.26 1120.98L816.07 1120.98L836.89 1121.31L857.7 1122.05M233.3 1134.07L254.11 1134.07L274.93 1134.07L295.74 1134.96L316.55 1136.22L337.37 1136.93L358.18 1137.29L378.99 1135.52L399.81 1133.75L420.62 1134.07L441.43 1134.39L462.25 1133.41L483.06 1132.25L503.87 1132.04L524.69 1131.82L545.5 1129.02L566.31 1126.07L587.13 1125.5L607.94 1125.27L628.75 1125.85L649.57 1126.56L670.38 1126.71L691.19 1126.88L712.01 1130.71L732.82 1134.39L753.63 1134.39L774.45 1134.39L795.26 1133.85L816.07 1133.32L836.89 1133.49L857.7 1134.07M233.3 1134.71L254.11 1134.71L274.93 1134.71L295.74 1135.61L316.55 1136.86L337.37 1137.35L358.18 1137.93L378.99 1140.55L399.81 1144.05L420.62 1147.14L441.43 1148.88L462.25 1148.88L483.06 1148.88L503.87 1148.88L524.69 1148.88L545.5 1138.94L566.31 1128.49L587.13 1127.74L607.94 1127.42L628.75 1127.26L649.57 1127.2L670.38 1127.9L691.19 1129.56L712.01 1135.14L732.82 1139.76L753.63 1139.5L774.45 1139.11L795.26 1138.93L816.07 1138.68L836.89 1137.32L857.7 1134.71M233.3 1151.56L254.11 1149.6L274.93 1147.7L295.74 1145.41L316.55 1144.05L337.37 1144.96L358.18 1146.84L378.99 1150.49L399.81 1153.17L420.62 1152.61L441.43 1152L462.25 1151.93L483.06 1151.88L503.87 1151.83L524.69 1151.74L545.5 1149.74L566.31 1147.81L587.13 1147.81L607.94 1147.81L628.75 1147.48L649.57 1146.73L670.38 1144.65L691.19 1142.98L712.01 1147.27L732.82 1151.56L753.63 1147.81L774.45 1144.05L795.26 1144.91L816.07 1146.63L836.89 1148.75L857.7 1151.56M233.3 1158.43L254.11 1160.53L274.93 1161.22L295.74 1159.77L316.55 1158.32L337.37 1158.32L358.18 1158.32L378.99 1157.49L399.81 1156.28L420.62 1155.57L441.43 1155.12L462.25 1154.99L483.06 1154.89L503.87 1154.78L524.69 1154.6L545.5 1153.18L566.31 1151.38L587.13 1150.42L607.94 1149.95L628.75 1149.95L649.57 1149.95L670.38 1152.38L691.19 1155.32L712.01 1156.1L732.82 1156.61L753.63 1157.04L774.45 1157.36L795.26 1157.52L816.07 1157.68L836.89 1157.99L857.7 1158.43M233.3 1159.07L254.11 1161.17L274.93 1161.87L295.74 1160.42L316.55 1158.97L337.37 1158.97L358.18 1158.97L378.99 1159.18L399.81 1159.4L420.62 1158.89L441.43 1158.25L462.25 1158.05L483.06 1157.89L503.87 1157.72L524.69 1157.47L545.5 1156.46L566.31 1154.96L587.13 1153.2L607.94 1152.1L628.75 1152.42L649.57 1153.17L670.38 1155.81L691.19 1158L712.01 1157.63L732.82 1157.25L753.63 1157.57L774.45 1158L795.26 1158.16L816.07 1158.32L836.89 1158.63L857.7 1159.07M233.3 1159.72L254.11 1160.68L274.93 1162.51L295.74 1166.33L316.55 1169.81L337.37 1170.94L358.18 1171.42L378.99 1167.22L399.81 1162.51L420.62 1161.77L441.43 1161.37L462.25 1161.05L483.06 1160.9L503.87 1163.21L524.69 1165.51L545.5 1162.03L566.31 1158.54L587.13 1160.42L607.94 1163.37L628.75 1165.77L649.57 1167.12L670.38 1163.9L691.19 1160.68L712.01 1164.71L732.82 1168.73L753.63 1163.69L774.45 1158.65L795.26 1162.08L816.07 1165.51L836.89 1164.13L857.7 1159.72M233.3 1183.76L254.11 1183.64L274.93 1183.33L295.74 1182.08L316.55 1180L337.37 1177.71L358.18 1174.77L378.99 1169.62L399.81 1165.62L420.62 1164.9L441.43 1164.49L462.25 1164.1L483.06 1163.9L503.87 1169.81L524.69 1175.71L545.5 1172.22L566.31 1168.73L587.13 1171.15L607.94 1173.56L628.75 1171.77L649.57 1169.99L670.38 1171.29L691.19 1173.56L712.01 1176.2L732.82 1177.86L753.63 1176.78L774.45 1175.71L795.26 1179.26L816.07 1183.11L836.89 1183.58L857.7 1183.76M233.3 1197.17L254.11 1195.58L274.93 1192.88L295.74 1188.03L316.55 1183.04L337.37 1180.57L358.18 1178.12L378.99 1172.87L399.81 1168.73L420.62 1167.92L441.43 1167.61L462.25 1170.51L483.06 1174.64L503.87 1177.13L524.69 1178.39L545.5 1178.22L566.31 1177.86L587.13 1177.39L607.94 1176.65L628.75 1174.52L649.57 1172.85L670.38 1174.07L691.19 1176.25L712.01 1178.87L732.82 1180.54L753.63 1180.48L774.45 1180.41L795.26 1187.25L816.07 1195.03L836.89 1196.57L857.7 1197.17M233.3 1200.48L254.11 1199.15L274.93 1196.55L295.74 1191.4L316.55 1186.08L337.37 1183.76L358.18 1181.48L378.99 1176.13L399.81 1171.85L420.62 1171.04L441.43 1170.73L462.25 1173.33L483.06 1177.14L503.87 1179.72L524.69 1181.08L545.5 1180.98L566.31 1180.77L587.13 1180.4L607.94 1179.73L628.75 1177.52L649.57 1175.71L670.38 1176.86L691.19 1178.93L712.01 1181.21L732.82 1183.22L753.63 1184.08L774.45 1185.12L795.26 1191.8L816.07 1198.51L836.89 1199.93L857.7 1200.48M233.3 1203.79L254.11 1202.68L274.93 1200.21L295.74 1194.77L316.55 1189.12L337.37 1186.95L358.18 1184.83L378.99 1179.39L399.81 1174.96L420.62 1174.16L441.43 1173.86L462.25 1175.72L483.06 1179.64L503.87 1187.83L524.69 1193.95L545.5 1189.02L566.31 1183.68L587.13 1183.23L607.94 1182.82L628.75 1180.52L649.57 1178.57L670.38 1179.65L691.19 1181.61L712.01 1183.69L732.82 1185.9L753.63 1187.64L774.45 1189.83L795.26 1196.27L816.07 1202L836.89 1203.29L857.7 1203.79M233.3 1207.1L254.11 1206.12L274.93 1203.88L295.74 1198.13L316.55 1192.16L337.37 1190.15L358.18 1188.19L378.99 1182.66L399.81 1178.07L420.62 1177.28L441.43 1176.98L462.25 1178.61L483.06 1182.15L503.87 1190.25L524.69 1196.46L545.5 1191.69L566.31 1186.59L587.13 1186.24L607.94 1185.9L628.75 1183.52L649.57 1181.43L670.38 1182.43L691.19 1184.29L712.01 1186.25L732.82 1188.59L753.63 1191.22L774.45 1194.53L795.26 1200.62L816.07 1205.49L836.89 1206.65L857.7 1207.1M233.3 1210.41L254.11 1209.56L274.93 1207.55L295.74 1201.5L316.55 1195.21L337.37 1193.34L358.18 1191.54L378.99 1185.93L399.81 1181.18L420.62 1180.4L441.43 1180.1L462.25 1189.71L483.06 1199.32L503.87 1199.23L524.69 1198.96L545.5 1194.27L566.31 1189.51L587.13 1189.24L607.94 1188.99L628.75 1186.53L649.57 1184.29L670.38 1189.39L691.19 1194.49L712.01 1192.88L732.82 1191.27L753.63 1194.16L774.45 1199.24L795.26 1204.89L816.07 1208.98L836.89 1210.01L857.7 1210.41M233.3 1213.72L254.11 1212.99L274.93 1211.21L295.74 1204.87L316.55 1198.25L337.37 1196.54L358.18 1194.89L378.99 1189.2L399.81 1184.29L420.62 1183.51L441.43 1183.22L462.25 1192.61L483.06 1202L503.87 1201.86L524.69 1201.47L545.5 1196.9L566.31 1192.42L587.13 1192.16L607.94 1192.08L628.75 1193.5L649.57 1196.64L670.38 1204.47L691.19 1210.59L712.01 1202.27L732.82 1193.95L753.63 1197.8L774.45 1203.94L795.26 1209.08L816.07 1212.47L836.89 1213.37L857.7 1213.72M233.3 1217.03L254.11 1216.36L274.93 1214.88L295.74 1212L316.55 1207.91L337.37 1202.26L358.18 1198.25L378.99 1197.62L399.81 1197.39L420.62 1197.8L441.43 1198.78L462.25 1202.02L483.06 1204.69L503.87 1204.49L524.69 1203.97L545.5 1199.53L566.31 1195.33L587.13 1195.2L607.94 1195.16L628.75 1202.44L649.57 1212.2L670.38 1216.92L691.19 1219.17L712.01 1212.73L732.82 1206.3L753.63 1207.03L774.45 1208.65L795.26 1212.51L816.07 1215.95L836.89 1216.72L857.7 1217.03M233.3 1220.34L254.11 1219.8L274.93 1218.55L295.74 1214.87L316.55 1210.86L337.37 1209.42L358.18 1207.91L378.99 1202.4L399.81 1198.03L420.62 1201.56L441.43 1205.76L462.25 1206.9L483.06 1207.37L503.87 1207.12L524.69 1206.47L545.5 1202.16L566.31 1198.25L587.13 1198.25L607.94 1198.25L628.75 1204.54L649.57 1214.7L670.38 1223.91L691.19 1229.26L712.01 1223.51L732.82 1216.49L753.63 1214.29L774.45 1213.35L795.26 1216.2L816.07 1219.44L836.89 1220.08L857.7 1220.34M233.3 1223.65L254.11 1223.24L274.93 1222.21L295.74 1218.17L316.55 1213.81L337.37 1212.49L358.18 1211.39L378.99 1209.29L399.81 1207.91L420.62 1208.31L441.43 1208.98L462.25 1209.65L483.06 1210.05L503.87 1209.51L524.69 1208.98L545.5 1208.98L566.31 1208.98L587.13 1210.1L607.94 1212.2L628.75 1214.25L649.57 1217.21L670.38 1225.9L691.19 1232.7L712.01 1227.15L732.82 1220.57L753.63 1218.79L774.45 1218.06L795.26 1220.34L816.07 1222.93L836.89 1223.44L857.7 1223.65M233.3 1226.95L254.11 1226.66L274.93 1225.88L295.74 1221.47L316.55 1216.76L337.37 1215.75L358.18 1214.88L378.99 1212.55L399.81 1210.86L420.62 1211.43L441.43 1212.2L462.25 1212.43L483.06 1212.73L503.87 1217.69L524.69 1222.39L545.5 1216.76L566.31 1211.12L587.13 1212.6L607.94 1215.15L628.75 1217.09L649.57 1219.71L670.38 1228.15L691.19 1234.84L712.01 1230.14L732.82 1224.65L753.63 1223.31L774.45 1222.76L795.26 1224.47L816.07 1226.42L836.89 1226.8L857.7 1226.95M233.3 1230.26L254.11 1230.07L274.93 1229.55L295.74 1224.76L316.55 1219.71L337.37 1219L358.18 1218.37L378.99 1215.83L399.81 1213.81L420.62 1214.61L441.43 1215.42L462.25 1215.42L483.06 1215.42L503.87 1222.98L524.69 1230.55L545.5 1221.91L566.31 1213.27L587.13 1214.84L607.94 1218.1L628.75 1223.38L649.57 1229.26L670.38 1234.27L691.19 1236.99L712.01 1233.13L732.82 1228.73L753.63 1227.83L774.45 1227.47L795.26 1228.61L816.07 1229.91L836.89 1230.16L857.7 1230.26M233.3 1233.57L254.11 1233.48L274.93 1233.21L295.74 1231.8L316.55 1229.26L337.37 1225.67L358.18 1221.86L378.99 1218.55L399.81 1216.76L420.62 1224.08L441.43 1231.41L462.25 1227.44L483.06 1223.47L503.87 1228.51L524.69 1233.55L545.5 1230.31L566.31 1225.61L587.13 1222.61L607.94 1221.05L628.75 1225.84L649.57 1232.7L670.38 1236.95L691.19 1239.14L712.01 1236.11L732.82 1232.8L753.63 1232.35L774.45 1232.18L795.26 1232.75L816.07 1233.39L836.89 1233.52L857.7 1233.57M233.3 1236.88L254.11 1236.88L274.93 1236.88L295.74 1235.95L316.55 1234.2L337.37 1232.39L358.18 1229.91L378.99 1224.05L399.81 1219.71L420.62 1227.28L441.43 1234.84L462.25 1233.77L483.06 1232.7L503.87 1234.63L524.69 1236.56L545.5 1235.63L566.31 1233.55L587.13 1228.21L607.94 1224L628.75 1228.91L649.57 1235.7L670.38 1239.44L691.19 1241.28L712.01 1239.08L732.82 1236.88L753.63 1236.88L774.45 1236.88L795.26 1236.88L816.07 1236.88L836.89 1236.88L857.7 1236.88M233.3 1196.21L254.11 1193.58L274.93 1193.2L295.74 1214.77L316.55 1236.34L337.37 1236.34L358.18 1236.34L378.99 1236.34L399.81 1236.34L420.62 1236.34L441.43 1236.34L462.25 1236.34L483.06 1236.34L503.87 1236.34L524.69 1236.34L545.5 1236.34L566.31 1236.34L587.13 1236.34L607.94 1236.34L628.75 1236.34L649.57 1236.34L670.38 1236.34L691.19 1236.34L712.01 1236.34L732.82 1236.34L753.63 1236.34L774.45 1236.34L795.26 1215.31L816.07 1194.28L836.89 1194.52L857.7 1196.21M233.3 1200.18L254.11 1197.74L274.93 1197.39L295.74 1217.3L316.55 1237.2L337.37 1237.2L358.18 1237.2L378.99 1237.2L399.81 1237.2L420.62 1237.2L441.43 1237.2L462.25 1237.2L483.06 1237.2L503.87 1237.2L524.69 1237.2L545.5 1237.2L566.31 1237.2L587.13 1237.2L607.94 1237.2L628.75 1237.2L649.57 1237.2L670.38 1237.2L691.19 1237.2L712.01 1237.2L732.82 1237.2L753.63 1237.2L774.45 1237.2L795.26 1217.78L816.07 1198.35L836.89 1198.58L857.7 1200.18M233.3 1204.15L254.11 1201.9L274.93 1201.57L295.74 1219.82L316.55 1238.06L337.37 1238.06L358.18 1238.06L378.99 1238.06L399.81 1238.06L420.62 1238.06L441.43 1238.06L462.25 1238.06L483.06 1238.06L503.87 1238.06L524.69 1238.06L545.5 1238.06L566.31 1238.06L587.13 1238.06L607.94 1238.06L628.75 1238.06L649.57 1238.06L670.38 1238.06L691.19 1238.06L712.01 1238.06L732.82 1238.06L753.63 1238.06L774.45 1238.06L795.26 1220.25L816.07 1202.43L836.89 1202.65L857.7 1204.15M233.3 1208.12L254.11 1206.05L274.93 1205.76L295.74 1222.34L316.55 1238.92L337.37 1238.92L358.18 1238.92L378.99 1238.92L399.81 1238.92L420.62 1238.92L441.43 1238.92L462.25 1238.92L483.06 1238.92L503.87 1238.92L524.69 1238.92L545.5 1238.92L566.31 1238.92L587.13 1238.92L607.94 1238.92L628.75 1238.92L649.57 1238.92L670.38 1238.92L691.19 1238.92L712.01 1238.92L732.82 1238.92L753.63 1238.92L774.45 1238.92L795.26 1222.72L816.07 1206.51L836.89 1206.71L857.7 1208.12M233.3 1212.09L254.11 1210.21L274.93 1209.94L295.74 1224.86L316.55 1239.78L337.37 1239.78L358.18 1239.78L378.99 1239.78L399.81 1239.78L420.62 1239.78L441.43 1239.78L462.25 1239.78L483.06 1239.78L503.87 1239.78L524.69 1239.78L545.5 1239.78L566.31 1239.78L587.13 1239.78L607.94 1239.78L628.75 1239.78L649.57 1239.78L670.38 1239.78L691.19 1239.78L712.01 1239.78L732.82 1239.78L753.63 1239.78L774.45 1239.78L795.26 1225.18L816.07 1210.59L836.89 1210.78L857.7 1212.09M233.3 1216.06L254.11 1214.37L274.93 1214.13L295.74 1227.38L316.55 1240.64L337.37 1240.64L358.18 1240.64L378.99 1240.64L399.81 1240.64L420.62 1240.64L441.43 1240.64L462.25 1240.64L483.06 1240.64L503.87 1240.64L524.69 1240.64L545.5 1240.64L566.31 1240.64L587.13 1240.64L607.94 1240.64L628.75 1240.64L649.57 1240.64L670.38 1240.64L691.19 1240.64L712.01 1240.64L732.82 1240.64L753.63 1240.64L774.45 1240.64L795.26 1227.65L816.07 1214.67L836.89 1214.84L857.7 1216.06M233.3 1220.03L254.11 1218.53L274.93 1218.32L295.74 1229.91L316.55 1241.5L337.37 1241.5L358.18 1241.5L378.99 1241.5L399.81 1241.5L420.62 1241.5L441.43 1241.5L462.25 1241.5L483.06 1241.5L503.87 1241.5L524.69 1241.5L545.5 1241.5L566.31 1241.5L587.13 1241.5L607.94 1241.5L628.75 1241.5L649.57 1241.5L670.38 1241.5L691.19 1241.5L712.01 1241.5L732.82 1241.5L753.63 1241.5L774.45 1241.5L795.26 1230.12L816.07 1218.74L836.89 1218.91L857.7 1220.03M233.3 1224L254.11 1222.69L274.93 1222.5L295.74 1232.43L316.55 1242.35L337.37 1242.35L358.18 1242.35L378.99 1242.35L399.81 1242.35L420.62 1242.35L441.43 1242.35L462.25 1242.35L483.06 1242.35L503.87 1242.35L524.69 1242.35L545.5 1242.35L566.31 1242.35L587.13 1242.35L607.94 1242.35L628.75 1242.35L649.57 1242.35L670.38 1242.35L691.19 1242.35L712.01 1242.35L732.82 1242.35L753.63 1242.35L774.45 1242.35L795.26 1232.59L816.07 1222.82L836.89 1222.97L857.7 1224M233.3 1227.97L254.11 1226.85L274.93 1226.69L295.74 1234.95L316.55 1243.21L337.37 1243.21L358.18 1243.21L378.99 1243.21L399.81 1243.21L420.62 1243.21L441.43 1243.21L462.25 1243.21L483.06 1243.21L503.87 1243.21L524.69 1243.21L545.5 1243.21L566.31 1243.21L587.13 1243.21L607.94 1243.21L628.75 1243.21L649.57 1243.21L670.38 1243.21L691.19 1243.21L712.01 1243.21L732.82 1243.21L753.63 1243.21L774.45 1243.21L795.26 1235.06L816.07 1226.9L836.89 1227.03L857.7 1227.97" fill="none" stroke="#72b8ee" stroke-width="1.5" stroke-dasharray="1.6 2.3" stroke-dashoffset="3.6"/>
<path d="M233.3 806.3H857.7M233.3 1117.6H857.7" stroke="#4a4a4a" stroke-width="1.1" fill="none"/>
<g fill="#0606ec">
<circle cx="233.3" cy="766.32" r="3.4"/>
<circle cx="254.11" cy="763.65" r="3.4"/>
<circle cx="274.93" cy="762.03" r="3.4"/>
<circle cx="295.74" cy="761.41" r="3.4"/>
<circle cx="316.55" cy="760.95" r="3.4"/>
<circle cx="337.37" cy="760.28" r="3.4"/>
<circle cx="358.18" cy="759.88" r="3.4"/>
<circle cx="378.99" cy="759.88" r="3.4"/>
<circle cx="399.81" cy="759.88" r="3.4"/>
<circle cx="420.62" cy="759.88" r="3.4"/>
<circle cx="441.43" cy="759.88" r="3.4"/>
<circle cx="462.25" cy="759.07" r="3.4"/>
<circle cx="483.06" cy="757.73" r="3.4"/>
<circle cx="503.87" cy="756.39" r="3.4"/>
<circle cx="524.69" cy="755.59" r="3.4"/>
<circle cx="545.5" cy="755.59" r="3.4"/>
<circle cx="566.31" cy="755.59" r="3.4"/>
<circle cx="587.13" cy="755.18" r="3.4"/>
<circle cx="607.94" cy="754.51" r="3.4"/>
<circle cx="628.75" cy="753.84" r="3.4"/>
<circle cx="649.57" cy="753.44" r="3.4"/>
<circle cx="670.38" cy="753.44" r="3.4"/>
<circle cx="691.19" cy="753.44" r="3.4"/>
<circle cx="712.01" cy="753.76" r="3.4"/>
<circle cx="732.82" cy="754.51" r="3.4"/>
<circle cx="753.63" cy="756.34" r="3.4"/>
<circle cx="774.45" cy="758.81" r="3.4"/>
<circle cx="795.26" cy="761.03" r="3.4"/>
<circle cx="816.07" cy="763.1" r="3.4"/>
<circle cx="836.89" cy="764.83" r="3.4"/>
<circle cx="857.7" cy="766.32" r="3.4"/>
<circle cx="233.3" cy="768.46" r="3.4"/>
<circle cx="254.11" cy="766.67" r="3.4"/>
<circle cx="274.93" cy="765.24" r="3.4"/>
<circle cx="295.74" cy="764.03" r="3.4"/>
<circle cx="316.55" cy="763.31" r="3.4"/>
<circle cx="337.37" cy="763.16" r="3.4"/>
<circle cx="358.18" cy="763.1" r="3.4"/>
<circle cx="378.99" cy="763.63" r="3.4"/>
<circle cx="399.81" cy="764.17" r="3.4"/>
<circle cx="420.62" cy="763.97" r="3.4"/>
<circle cx="441.43" cy="763.63" r="3.4"/>
<circle cx="462.25" cy="763.42" r="3.4"/>
<circle cx="483.06" cy="763.1" r="3.4"/>
<circle cx="503.87" cy="760.52" r="3.4"/>
<circle cx="524.69" cy="757.73" r="3.4"/>
<circle cx="545.5" cy="756.97" r="3.4"/>
<circle cx="566.31" cy="756.66" r="3.4"/>
<circle cx="587.13" cy="756.66" r="3.4"/>
<circle cx="607.94" cy="756.66" r="3.4"/>
<circle cx="628.75" cy="757.2" r="3.4"/>
<circle cx="649.57" cy="757.73" r="3.4"/>
<circle cx="670.38" cy="757.73" r="3.4"/>
<circle cx="691.19" cy="757.73" r="3.4"/>
<circle cx="712.01" cy="758.29" r="3.4"/>
<circle cx="732.82" cy="759.34" r="3.4"/>
<circle cx="753.63" cy="760.47" r="3.4"/>
<circle cx="774.45" cy="761.81" r="3.4"/>
<circle cx="795.26" cy="763.35" r="3.4"/>
<circle cx="816.07" cy="765.03" r="3.4"/>
<circle cx="836.89" cy="766.72" r="3.4"/>
<circle cx="857.7" cy="768.46" r="3.4"/>
<circle cx="233.3" cy="770.61" r="3.4"/>
<circle cx="254.11" cy="769.61" r="3.4"/>
<circle cx="274.93" cy="768.46" r="3.4"/>
<circle cx="295.74" cy="766.77" r="3.4"/>
<circle cx="316.55" cy="765.67" r="3.4"/>
<circle cx="337.37" cy="765.87" r="3.4"/>
<circle cx="358.18" cy="766.32" r="3.4"/>
<circle cx="378.99" cy="767.51" r="3.4"/>
<circle cx="399.81" cy="768.46" r="3.4"/>
<circle cx="420.62" cy="767.93" r="3.4"/>
<circle cx="441.43" cy="767.39" r="3.4"/>
<circle cx="462.25" cy="767.75" r="3.4"/>
<circle cx="483.06" cy="768.46" r="3.4"/>
<circle cx="503.87" cy="769.45" r="3.4"/>
<circle cx="524.69" cy="770.72" r="3.4"/>
<circle cx="545.5" cy="772.4" r="3.4"/>
<circle cx="566.31" cy="773.83" r="3.4"/>
<circle cx="587.13" cy="774.57" r="3.4"/>
<circle cx="607.94" cy="774.9" r="3.4"/>
<circle cx="628.75" cy="774.37" r="3.4"/>
<circle cx="649.57" cy="773.83" r="3.4"/>
<circle cx="670.38" cy="773.83" r="3.4"/>
<circle cx="691.19" cy="773.83" r="3.4"/>
<circle cx="712.01" cy="769" r="3.4"/>
<circle cx="732.82" cy="764.17" r="3.4"/>
<circle cx="753.63" cy="764.37" r="3.4"/>
<circle cx="774.45" cy="764.82" r="3.4"/>
<circle cx="795.26" cy="765.67" r="3.4"/>
<circle cx="816.07" cy="766.96" r="3.4"/>
<circle cx="836.89" cy="768.57" r="3.4"/>
<circle cx="857.7" cy="770.61" r="3.4"/>
<circle cx="233.3" cy="772.76" r="3.4"/>
<circle cx="254.11" cy="772.43" r="3.4"/>
<circle cx="274.93" cy="771.68" r="3.4"/>
<circle cx="295.74" cy="769.65" r="3.4"/>
<circle cx="316.55" cy="768.03" r="3.4"/>
<circle cx="337.37" cy="768.45" r="3.4"/>
<circle cx="358.18" cy="769.54" r="3.4"/>
<circle cx="378.99" cy="775.67" r="3.4"/>
<circle cx="399.81" cy="782.42" r="3.4"/>
<circle cx="420.62" cy="784.67" r="3.4"/>
<circle cx="441.43" cy="785.64" r="3.4"/>
<circle cx="462.25" cy="785.28" r="3.4"/>
<circle cx="483.06" cy="784.56" r="3.4"/>
<circle cx="503.87" cy="783.69" r="3.4"/>
<circle cx="524.69" cy="782.42" r="3.4"/>
<circle cx="545.5" cy="779.46" r="3.4"/>
<circle cx="566.31" cy="777.26" r="3.4"/>
<circle cx="587.13" cy="777.59" r="3.4"/>
<circle cx="607.94" cy="777.91" r="3.4"/>
<circle cx="628.75" cy="777.59" r="3.4"/>
<circle cx="649.57" cy="777.26" r="3.4"/>
<circle cx="670.38" cy="777.26" r="3.4"/>
<circle cx="691.19" cy="777.26" r="3.4"/>
<circle cx="712.01" cy="776.53" r="3.4"/>
<circle cx="732.82" cy="774.9" r="3.4"/>
<circle cx="753.63" cy="770.92" r="3.4"/>
<circle cx="774.45" cy="767.82" r="3.4"/>
<circle cx="795.26" cy="768.15" r="3.4"/>
<circle cx="816.07" cy="768.89" r="3.4"/>
<circle cx="836.89" cy="770.38" r="3.4"/>
<circle cx="857.7" cy="772.76" r="3.4"/>
<circle cx="233.3" cy="774.9" r="3.4"/>
<circle cx="254.11" cy="774.9" r="3.4"/>
<circle cx="274.93" cy="774.9" r="3.4"/>
<circle cx="295.74" cy="772.65" r="3.4"/>
<circle cx="316.55" cy="770.4" r="3.4"/>
<circle cx="337.37" cy="771.08" r="3.4"/>
<circle cx="358.18" cy="772.76" r="3.4"/>
<circle cx="378.99" cy="778.85" r="3.4"/>
<circle cx="399.81" cy="785.1" r="3.4"/>
<circle cx="420.62" cy="787.08" r="3.4"/>
<circle cx="441.43" cy="787.92" r="3.4"/>
<circle cx="462.25" cy="787.61" r="3.4"/>
<circle cx="483.06" cy="786.98" r="3.4"/>
<circle cx="503.87" cy="786.09" r="3.4"/>
<circle cx="524.69" cy="784.83" r="3.4"/>
<circle cx="545.5" cy="782.41" r="3.4"/>
<circle cx="566.31" cy="780.7" r="3.4"/>
<circle cx="587.13" cy="780.81" r="3.4"/>
<circle cx="607.94" cy="780.91" r="3.4"/>
<circle cx="628.75" cy="780.81" r="3.4"/>
<circle cx="649.57" cy="780.7" r="3.4"/>
<circle cx="670.38" cy="780.7" r="3.4"/>
<circle cx="691.19" cy="780.7" r="3.4"/>
<circle cx="712.01" cy="780.35" r="3.4"/>
<circle cx="732.82" cy="779.46" r="3.4"/>
<circle cx="753.63" cy="774.87" r="3.4"/>
<circle cx="774.45" cy="770.83" r="3.4"/>
<circle cx="795.26" cy="770.83" r="3.4"/>
<circle cx="816.07" cy="770.83" r="3.4"/>
<circle cx="836.89" cy="772.1" r="3.4"/>
<circle cx="857.7" cy="774.9" r="3.4"/>
<circle cx="233.3" cy="777.05" r="3.4"/>
<circle cx="254.11" cy="777.99" r="3.4"/>
<circle cx="274.93" cy="778.12" r="3.4"/>
<circle cx="295.74" cy="775.44" r="3.4"/>
<circle cx="316.55" cy="772.76" r="3.4"/>
<circle cx="337.37" cy="773.73" r="3.4"/>
<circle cx="358.18" cy="775.98" r="3.4"/>
<circle cx="378.99" cy="782.01" r="3.4"/>
<circle cx="399.81" cy="787.78" r="3.4"/>
<circle cx="420.62" cy="789.49" r="3.4"/>
<circle cx="441.43" cy="790.2" r="3.4"/>
<circle cx="462.25" cy="789.94" r="3.4"/>
<circle cx="483.06" cy="789.39" r="3.4"/>
<circle cx="503.87" cy="788.49" r="3.4"/>
<circle cx="524.69" cy="787.25" r="3.4"/>
<circle cx="545.5" cy="785.42" r="3.4"/>
<circle cx="566.31" cy="784.13" r="3.4"/>
<circle cx="587.13" cy="783.98" r="3.4"/>
<circle cx="607.94" cy="783.92" r="3.4"/>
<circle cx="628.75" cy="784.03" r="3.4"/>
<circle cx="649.57" cy="784.13" r="3.4"/>
<circle cx="670.38" cy="784.13" r="3.4"/>
<circle cx="691.19" cy="784.13" r="3.4"/>
<circle cx="712.01" cy="784.11" r="3.4"/>
<circle cx="732.82" cy="784.03" r="3.4"/>
<circle cx="753.63" cy="779.14" r="3.4"/>
<circle cx="774.45" cy="773.83" r="3.4"/>
<circle cx="795.26" cy="773.05" r="3.4"/>
<circle cx="816.07" cy="772.76" r="3.4"/>
<circle cx="836.89" cy="774.03" r="3.4"/>
<circle cx="857.7" cy="777.05" r="3.4"/>
<circle cx="233.3" cy="779.2" r="3.4"/>
<circle cx="254.11" cy="780.21" r="3.4"/>
<circle cx="274.93" cy="781.34" r="3.4"/>
<circle cx="295.74" cy="782.72" r="3.4"/>
<circle cx="316.55" cy="784.03" r="3.4"/>
<circle cx="337.37" cy="784.83" r="3.4"/>
<circle cx="358.18" cy="785.74" r="3.4"/>
<circle cx="378.99" cy="788.07" r="3.4"/>
<circle cx="399.81" cy="790.46" r="3.4"/>
<circle cx="420.62" cy="791.82" r="3.4"/>
<circle cx="441.43" cy="792.48" r="3.4"/>
<circle cx="462.25" cy="792.27" r="3.4"/>
<circle cx="483.06" cy="791.81" r="3.4"/>
<circle cx="503.87" cy="790.87" r="3.4"/>
<circle cx="524.69" cy="789.66" r="3.4"/>
<circle cx="545.5" cy="788.47" r="3.4"/>
<circle cx="566.31" cy="787.57" r="3.4"/>
<circle cx="587.13" cy="787.12" r="3.4"/>
<circle cx="607.94" cy="786.92" r="3.4"/>
<circle cx="628.75" cy="787.25" r="3.4"/>
<circle cx="649.57" cy="787.57" r="3.4"/>
<circle cx="670.38" cy="787.57" r="3.4"/>
<circle cx="691.19" cy="787.57" r="3.4"/>
<circle cx="712.01" cy="788.08" r="3.4"/>
<circle cx="732.82" cy="788.59" r="3.4"/>
<circle cx="753.63" cy="786.93" r="3.4"/>
<circle cx="774.45" cy="784.67" r="3.4"/>
<circle cx="795.26" cy="783.81" r="3.4"/>
<circle cx="816.07" cy="782.95" r="3.4"/>
<circle cx="836.89" cy="781.38" r="3.4"/>
<circle cx="857.7" cy="779.2" r="3.4"/>
<circle cx="233.3" cy="794.22" r="3.4"/>
<circle cx="254.11" cy="794.22" r="3.4"/>
<circle cx="274.93" cy="794.22" r="3.4"/>
<circle cx="295.74" cy="794.22" r="3.4"/>
<circle cx="316.55" cy="794.22" r="3.4"/>
<circle cx="337.37" cy="794.22" r="3.4"/>
<circle cx="358.18" cy="794.22" r="3.4"/>
<circle cx="378.99" cy="793.68" r="3.4"/>
<circle cx="399.81" cy="793.15" r="3.4"/>
<circle cx="420.62" cy="793.95" r="3.4"/>
<circle cx="441.43" cy="794.76" r="3.4"/>
<circle cx="462.25" cy="794.6" r="3.4"/>
<circle cx="483.06" cy="794.22" r="3.4"/>
<circle cx="503.87" cy="793.22" r="3.4"/>
<circle cx="524.69" cy="792.07" r="3.4"/>
<circle cx="545.5" cy="791.49" r="3.4"/>
<circle cx="566.31" cy="791" r="3.4"/>
<circle cx="587.13" cy="790.33" r="3.4"/>
<circle cx="607.94" cy="789.93" r="3.4"/>
<circle cx="628.75" cy="790.46" r="3.4"/>
<circle cx="649.57" cy="791" r="3.4"/>
<circle cx="670.38" cy="791" r="3.4"/>
<circle cx="691.19" cy="791" r="3.4"/>
<circle cx="712.01" cy="791.9" r="3.4"/>
<circle cx="732.82" cy="793.15" r="3.4"/>
<circle cx="753.63" cy="793.86" r="3.4"/>
<circle cx="774.45" cy="794.22" r="3.4"/>
<circle cx="795.26" cy="794.22" r="3.4"/>
<circle cx="816.07" cy="794.22" r="3.4"/>
<circle cx="836.89" cy="794.22" r="3.4"/>
<circle cx="857.7" cy="794.22" r="3.4"/>
<circle cx="233.3" cy="795.03" r="3.4"/>
<circle cx="254.11" cy="795.33" r="3.4"/>
<circle cx="274.93" cy="795.56" r="3.4"/>
<circle cx="295.74" cy="795.7" r="3.4"/>
<circle cx="316.55" cy="795.83" r="3.4"/>
<circle cx="337.37" cy="796.14" r="3.4"/>
<circle cx="358.18" cy="796.37" r="3.4"/>
<circle cx="378.99" cy="796.1" r="3.4"/>
<circle cx="399.81" cy="795.83" r="3.4"/>
<circle cx="420.62" cy="796.43" r="3.4"/>
<circle cx="441.43" cy="797.04" r="3.4"/>
<circle cx="462.25" cy="796.84" r="3.4"/>
<circle cx="483.06" cy="796.64" r="3.4"/>
<circle cx="503.87" cy="800.26" r="3.4"/>
<circle cx="524.69" cy="803.88" r="3.4"/>
<circle cx="545.5" cy="803.34" r="3.4"/>
<circle cx="566.31" cy="802.81" r="3.4"/>
<circle cx="587.13" cy="803.34" r="3.4"/>
<circle cx="607.94" cy="803.88" r="3.4"/>
<circle cx="628.75" cy="803.88" r="3.4"/>
<circle cx="649.57" cy="803.88" r="3.4"/>
<circle cx="670.38" cy="803.48" r="3.4"/>
<circle cx="691.19" cy="802.81" r="3.4"/>
<circle cx="712.01" cy="802.36" r="3.4"/>
<circle cx="732.82" cy="801.73" r="3.4"/>
<circle cx="753.63" cy="798.81" r="3.4"/>
<circle cx="774.45" cy="796.1" r="3.4"/>
<circle cx="795.26" cy="795.78" r="3.4"/>
<circle cx="816.07" cy="795.56" r="3.4"/>
<circle cx="836.89" cy="795.29" r="3.4"/>
<circle cx="857.7" cy="795.03" r="3.4"/>
<circle cx="233.3" cy="795.83" r="3.4"/>
<circle cx="254.11" cy="796.45" r="3.4"/>
<circle cx="274.93" cy="796.9" r="3.4"/>
<circle cx="295.74" cy="797.17" r="3.4"/>
<circle cx="316.55" cy="797.44" r="3.4"/>
<circle cx="337.37" cy="798.07" r="3.4"/>
<circle cx="358.18" cy="798.51" r="3.4"/>
<circle cx="378.99" cy="798.51" r="3.4"/>
<circle cx="399.81" cy="798.51" r="3.4"/>
<circle cx="420.62" cy="798.92" r="3.4"/>
<circle cx="441.43" cy="799.32" r="3.4"/>
<circle cx="462.25" cy="799.18" r="3.4"/>
<circle cx="483.06" cy="799.05" r="3.4"/>
<circle cx="503.87" cy="801.46" r="3.4"/>
<circle cx="524.69" cy="803.88" r="3.4"/>
<circle cx="545.5" cy="803.7" r="3.4"/>
<circle cx="566.31" cy="803.52" r="3.4"/>
<circle cx="587.13" cy="803.88" r="3.4"/>
<circle cx="607.94" cy="804.24" r="3.4"/>
<circle cx="628.75" cy="804.24" r="3.4"/>
<circle cx="649.57" cy="804.24" r="3.4"/>
<circle cx="670.38" cy="803.97" r="3.4"/>
<circle cx="691.19" cy="803.52" r="3.4"/>
<circle cx="712.01" cy="803.23" r="3.4"/>
<circle cx="732.82" cy="802.81" r="3.4"/>
<circle cx="753.63" cy="800.46" r="3.4"/>
<circle cx="774.45" cy="797.98" r="3.4"/>
<circle cx="795.26" cy="797.36" r="3.4"/>
<circle cx="816.07" cy="796.9" r="3.4"/>
<circle cx="836.89" cy="796.37" r="3.4"/>
<circle cx="857.7" cy="795.83" r="3.4"/>
<circle cx="233.3" cy="796.64" r="3.4"/>
<circle cx="254.11" cy="797.56" r="3.4"/>
<circle cx="274.93" cy="798.25" r="3.4"/>
<circle cx="295.74" cy="798.65" r="3.4"/>
<circle cx="316.55" cy="799.05" r="3.4"/>
<circle cx="337.37" cy="799.89" r="3.4"/>
<circle cx="358.18" cy="800.66" r="3.4"/>
<circle cx="378.99" cy="800.97" r="3.4"/>
<circle cx="399.81" cy="801.2" r="3.4"/>
<circle cx="420.62" cy="801.46" r="3.4"/>
<circle cx="441.43" cy="801.6" r="3.4"/>
<circle cx="462.25" cy="801.53" r="3.4"/>
<circle cx="483.06" cy="801.46" r="3.4"/>
<circle cx="503.87" cy="802.59" r="3.4"/>
<circle cx="524.69" cy="803.88" r="3.4"/>
<circle cx="545.5" cy="804.09" r="3.4"/>
<circle cx="566.31" cy="804.24" r="3.4"/>
<circle cx="587.13" cy="804.46" r="3.4"/>
<circle cx="607.94" cy="804.6" r="3.4"/>
<circle cx="628.75" cy="804.6" r="3.4"/>
<circle cx="649.57" cy="804.6" r="3.4"/>
<circle cx="670.38" cy="804.46" r="3.4"/>
<circle cx="691.19" cy="804.24" r="3.4"/>
<circle cx="712.01" cy="804.1" r="3.4"/>
<circle cx="732.82" cy="803.88" r="3.4"/>
<circle cx="753.63" cy="802.07" r="3.4"/>
<circle cx="774.45" cy="799.86" r="3.4"/>
<circle cx="795.26" cy="798.96" r="3.4"/>
<circle cx="816.07" cy="798.25" r="3.4"/>
<circle cx="836.89" cy="797.44" r="3.4"/>
<circle cx="857.7" cy="796.64" r="3.4"/>
<circle cx="233.3" cy="797.44" r="3.4"/>
<circle cx="254.11" cy="798.67" r="3.4"/>
<circle cx="274.93" cy="799.59" r="3.4"/>
<circle cx="295.74" cy="800.12" r="3.4"/>
<circle cx="316.55" cy="800.66" r="3.4"/>
<circle cx="337.37" cy="801.73" r="3.4"/>
<circle cx="358.18" cy="802.81" r="3.4"/>
<circle cx="378.99" cy="803.52" r="3.4"/>
<circle cx="399.81" cy="803.88" r="3.4"/>
<circle cx="420.62" cy="803.88" r="3.4"/>
<circle cx="441.43" cy="803.88" r="3.4"/>
<circle cx="462.25" cy="803.88" r="3.4"/>
<circle cx="483.06" cy="803.88" r="3.4"/>
<circle cx="503.87" cy="803.88" r="3.4"/>
<circle cx="524.69" cy="803.88" r="3.4"/>
<circle cx="545.5" cy="804.42" r="3.4"/>
<circle cx="566.31" cy="804.95" r="3.4"/>
<circle cx="587.13" cy="804.95" r="3.4"/>
<circle cx="607.94" cy="804.95" r="3.4"/>
<circle cx="628.75" cy="804.95" r="3.4"/>
<circle cx="649.57" cy="804.95" r="3.4"/>
<circle cx="670.38" cy="804.95" r="3.4"/>
<circle cx="691.19" cy="804.95" r="3.4"/>
<circle cx="712.01" cy="804.95" r="3.4"/>
<circle cx="732.82" cy="804.95" r="3.4"/>
<circle cx="753.63" cy="803.66" r="3.4"/>
<circle cx="774.45" cy="801.73" r="3.4"/>
<circle cx="795.26" cy="800.61" r="3.4"/>
<circle cx="816.07" cy="799.59" r="3.4"/>
<circle cx="836.89" cy="798.51" r="3.4"/>
<circle cx="857.7" cy="797.44" r="3.4"/>
<circle cx="233.3" cy="823.73" r="3.4"/>
<circle cx="254.11" cy="824.16" r="3.4"/>
<circle cx="274.93" cy="824.38" r="3.4"/>
<circle cx="295.74" cy="824.81" r="3.4"/>
<circle cx="316.55" cy="825.45" r="3.4"/>
<circle cx="337.37" cy="825.88" r="3.4"/>
<circle cx="358.18" cy="826.52" r="3.4"/>
<circle cx="378.99" cy="827.6" r="3.4"/>
<circle cx="399.81" cy="828.24" r="3.4"/>
<circle cx="420.62" cy="828.46" r="3.4"/>
<circle cx="441.43" cy="828.46" r="3.4"/>
<circle cx="462.25" cy="828.46" r="3.4"/>
<circle cx="483.06" cy="828.46" r="3.4"/>
<circle cx="503.87" cy="828.46" r="3.4"/>
<circle cx="524.69" cy="828.46" r="3.4"/>
<circle cx="545.5" cy="828.46" r="3.4"/>
<circle cx="566.31" cy="828.46" r="3.4"/>
<circle cx="587.13" cy="828.46" r="3.4"/>
<circle cx="607.94" cy="828.46" r="3.4"/>
<circle cx="628.75" cy="828.46" r="3.4"/>
<circle cx="649.57" cy="828.24" r="3.4"/>
<circle cx="670.38" cy="828.03" r="3.4"/>
<circle cx="691.19" cy="827.6" r="3.4"/>
<circle cx="712.01" cy="826.95" r="3.4"/>
<circle cx="732.82" cy="825.88" r="3.4"/>
<circle cx="753.63" cy="824.81" r="3.4"/>
<circle cx="774.45" cy="824.16" r="3.4"/>
<circle cx="795.26" cy="823.73" r="3.4"/>
<circle cx="816.07" cy="823.73" r="3.4"/>
<circle cx="836.89" cy="823.73" r="3.4"/>
<circle cx="857.7" cy="823.73" r="3.4"/>
<circle cx="233.3" cy="831.25" r="3.4"/>
<circle cx="254.11" cy="831.25" r="3.4"/>
<circle cx="274.93" cy="831.25" r="3.4"/>
<circle cx="295.74" cy="830.82" r="3.4"/>
<circle cx="316.55" cy="830.6" r="3.4"/>
<circle cx="337.37" cy="830.17" r="3.4"/>
<circle cx="358.18" cy="829.74" r="3.4"/>
<circle cx="378.99" cy="829.1" r="3.4"/>
<circle cx="399.81" cy="828.67" r="3.4"/>
<circle cx="420.62" cy="828.46" r="3.4"/>
<circle cx="441.43" cy="828.46" r="3.4"/>
<circle cx="462.25" cy="828.46" r="3.4"/>
<circle cx="483.06" cy="828.46" r="3.4"/>
<circle cx="503.87" cy="828.46" r="3.4"/>
<circle cx="524.69" cy="828.46" r="3.4"/>
<circle cx="545.5" cy="828.46" r="3.4"/>
<circle cx="566.31" cy="828.46" r="3.4"/>
<circle cx="587.13" cy="828.46" r="3.4"/>
<circle cx="607.94" cy="828.46" r="3.4"/>
<circle cx="628.75" cy="828.46" r="3.4"/>
<circle cx="649.57" cy="828.46" r="3.4"/>
<circle cx="670.38" cy="828.46" r="3.4"/>
<circle cx="691.19" cy="828.46" r="3.4"/>
<circle cx="712.01" cy="828.67" r="3.4"/>
<circle cx="732.82" cy="829.1" r="3.4"/>
<circle cx="753.63" cy="830.17" r="3.4"/>
<circle cx="774.45" cy="830.82" r="3.4"/>
<circle cx="795.26" cy="831.25" r="3.4"/>
<circle cx="816.07" cy="831.25" r="3.4"/>
<circle cx="836.89" cy="831.46" r="3.4"/>
<circle cx="857.7" cy="831.25" r="3.4"/>
<circle cx="233.3" cy="840.9" r="3.4"/>
<circle cx="254.11" cy="840.9" r="3.4"/>
<circle cx="274.93" cy="841.12" r="3.4"/>
<circle cx="295.74" cy="841.33" r="3.4"/>
<circle cx="316.55" cy="841.55" r="3.4"/>
<circle cx="337.37" cy="841.98" r="3.4"/>
<circle cx="358.18" cy="842.41" r="3.4"/>
<circle cx="378.99" cy="842.62" r="3.4"/>
<circle cx="399.81" cy="842.84" r="3.4"/>
<circle cx="420.62" cy="843.05" r="3.4"/>
<circle cx="441.43" cy="843.05" r="3.4"/>
<circle cx="462.25" cy="843.05" r="3.4"/>
<circle cx="483.06" cy="843.05" r="3.4"/>
<circle cx="503.87" cy="843.27" r="3.4"/>
<circle cx="524.69" cy="843.27" r="3.4"/>
<circle cx="545.5" cy="843.48" r="3.4"/>
<circle cx="566.31" cy="843.48" r="3.4"/>
<circle cx="587.13" cy="843.69" r="3.4"/>
<circle cx="607.94" cy="843.91" r="3.4"/>
<circle cx="628.75" cy="844.12" r="3.4"/>
<circle cx="649.57" cy="844.12" r="3.4"/>
<circle cx="670.38" cy="844.12" r="3.4"/>
<circle cx="691.19" cy="844.12" r="3.4"/>
<circle cx="712.01" cy="843.69" r="3.4"/>
<circle cx="732.82" cy="843.05" r="3.4"/>
<circle cx="753.63" cy="842.62" r="3.4"/>
<circle cx="774.45" cy="841.98" r="3.4"/>
<circle cx="795.26" cy="841.55" r="3.4"/>
<circle cx="816.07" cy="841.12" r="3.4"/>
<circle cx="836.89" cy="840.9" r="3.4"/>
<circle cx="857.7" cy="840.9" r="3.4"/>
<circle cx="233.3" cy="879.11" r="3.4"/>
<circle cx="254.11" cy="879.11" r="3.4"/>
<circle cx="274.93" cy="879.11" r="3.4"/>
<circle cx="295.74" cy="879.11" r="3.4"/>
<circle cx="316.55" cy="879.11" r="3.4"/>
<circle cx="337.37" cy="879.11" r="3.4"/>
<circle cx="358.18" cy="879.11" r="3.4"/>
<circle cx="378.99" cy="879.11" r="3.4"/>
<circle cx="399.81" cy="879.11" r="3.4"/>
<circle cx="420.62" cy="879.11" r="3.4"/>
<circle cx="441.43" cy="879.11" r="3.4"/>
<circle cx="462.25" cy="879.11" r="3.4"/>
<circle cx="483.06" cy="879.11" r="3.4"/>
<circle cx="503.87" cy="879.11" r="3.4"/>
<circle cx="524.69" cy="879.11" r="3.4"/>
<circle cx="545.5" cy="879.11" r="3.4"/>
<circle cx="566.31" cy="879.11" r="3.4"/>
<circle cx="587.13" cy="879.11" r="3.4"/>
<circle cx="607.94" cy="879.11" r="3.4"/>
<circle cx="628.75" cy="879.11" r="3.4"/>
<circle cx="649.57" cy="879.11" r="3.4"/>
<circle cx="670.38" cy="879.11" r="3.4"/>
<circle cx="691.19" cy="879.11" r="3.4"/>
<circle cx="712.01" cy="879.11" r="3.4"/>
<circle cx="732.82" cy="879.11" r="3.4"/>
<circle cx="753.63" cy="879.11" r="3.4"/>
<circle cx="774.45" cy="879.11" r="3.4"/>
<circle cx="795.26" cy="879.11" r="3.4"/>
<circle cx="816.07" cy="879.11" r="3.4"/>
<circle cx="836.89" cy="879.11" r="3.4"/>
<circle cx="857.7" cy="879.11" r="3.4"/>
<circle cx="233.3" cy="885.55" r="3.4"/>
<circle cx="254.11" cy="885.52" r="3.4"/>
<circle cx="274.93" cy="885.49" r="3.4"/>
<circle cx="295.74" cy="885.44" r="3.4"/>
<circle cx="316.55" cy="885.39" r="3.4"/>
<circle cx="337.37" cy="885.33" r="3.4"/>
<circle cx="358.18" cy="885.25" r="3.4"/>
<circle cx="378.99" cy="885.14" r="3.4"/>
<circle cx="399.81" cy="885.03" r="3.4"/>
<circle cx="420.62" cy="884.94" r="3.4"/>
<circle cx="441.43" cy="884.91" r="3.4"/>
<circle cx="462.25" cy="884.91" r="3.4"/>
<circle cx="483.06" cy="884.91" r="3.4"/>
<circle cx="503.87" cy="884.91" r="3.4"/>
<circle cx="524.69" cy="884.91" r="3.4"/>
<circle cx="545.5" cy="884.91" r="3.4"/>
<circle cx="566.31" cy="884.91" r="3.4"/>
<circle cx="587.13" cy="884.91" r="3.4"/>
<circle cx="607.94" cy="884.91" r="3.4"/>
<circle cx="628.75" cy="884.91" r="3.4"/>
<circle cx="649.57" cy="884.91" r="3.4"/>
<circle cx="670.38" cy="884.92" r="3.4"/>
<circle cx="691.19" cy="884.95" r="3.4"/>
<circle cx="712.01" cy="885" r="3.4"/>
<circle cx="732.82" cy="885.06" r="3.4"/>
<circle cx="753.63" cy="885.12" r="3.4"/>
<circle cx="774.45" cy="885.18" r="3.4"/>
<circle cx="795.26" cy="885.26" r="3.4"/>
<circle cx="816.07" cy="885.35" r="3.4"/>
<circle cx="836.89" cy="885.45" r="3.4"/>
<circle cx="857.7" cy="885.55" r="3.4"/>
<circle cx="233.3" cy="940.78" r="3.4"/>
<circle cx="254.11" cy="940.82" r="3.4"/>
<circle cx="274.93" cy="940.87" r="3.4"/>
<circle cx="295.74" cy="940.91" r="3.4"/>
<circle cx="316.55" cy="940.95" r="3.4"/>
<circle cx="337.37" cy="941" r="3.4"/>
<circle cx="358.18" cy="941.05" r="3.4"/>
<circle cx="378.99" cy="941.1" r="3.4"/>
<circle cx="399.81" cy="941.16" r="3.4"/>
<circle cx="420.62" cy="941.2" r="3.4"/>
<circle cx="441.43" cy="941.21" r="3.4"/>
<circle cx="462.25" cy="941.21" r="3.4"/>
<circle cx="483.06" cy="941.21" r="3.4"/>
<circle cx="503.87" cy="941.21" r="3.4"/>
<circle cx="524.69" cy="941.21" r="3.4"/>
<circle cx="545.5" cy="941.21" r="3.4"/>
<circle cx="566.31" cy="941.21" r="3.4"/>
<circle cx="587.13" cy="941.21" r="3.4"/>
<circle cx="607.94" cy="941.21" r="3.4"/>
<circle cx="628.75" cy="941.21" r="3.4"/>
<circle cx="649.57" cy="941.21" r="3.4"/>
<circle cx="670.38" cy="941.2" r="3.4"/>
<circle cx="691.19" cy="941.16" r="3.4"/>
<circle cx="712.01" cy="941.1" r="3.4"/>
<circle cx="732.82" cy="941.05" r="3.4"/>
<circle cx="753.63" cy="941" r="3.4"/>
<circle cx="774.45" cy="940.95" r="3.4"/>
<circle cx="795.26" cy="940.91" r="3.4"/>
<circle cx="816.07" cy="940.87" r="3.4"/>
<circle cx="836.89" cy="940.82" r="3.4"/>
<circle cx="857.7" cy="940.78" r="3.4"/>
<circle cx="233.3" cy="1016.98" r="3.4"/>
<circle cx="254.11" cy="1017.12" r="3.4"/>
<circle cx="274.93" cy="1017.26" r="3.4"/>
<circle cx="295.74" cy="1017.39" r="3.4"/>
<circle cx="316.55" cy="1017.51" r="3.4"/>
<circle cx="337.37" cy="1017.62" r="3.4"/>
<circle cx="358.18" cy="1017.73" r="3.4"/>
<circle cx="378.99" cy="1017.85" r="3.4"/>
<circle cx="399.81" cy="1017.95" r="3.4"/>
<circle cx="420.62" cy="1018.02" r="3.4"/>
<circle cx="441.43" cy="1018.05" r="3.4"/>
<circle cx="462.25" cy="1018.05" r="3.4"/>
<circle cx="483.06" cy="1018.05" r="3.4"/>
<circle cx="503.87" cy="1018.05" r="3.4"/>
<circle cx="524.69" cy="1018.05" r="3.4"/>
<circle cx="545.5" cy="1018.05" r="3.4"/>
<circle cx="566.31" cy="1018.05" r="3.4"/>
<circle cx="587.13" cy="1018.05" r="3.4"/>
<circle cx="607.94" cy="1018.05" r="3.4"/>
<circle cx="628.75" cy="1018.05" r="3.4"/>
<circle cx="649.57" cy="1018.05" r="3.4"/>
<circle cx="670.38" cy="1018.02" r="3.4"/>
<circle cx="691.19" cy="1017.95" r="3.4"/>
<circle cx="712.01" cy="1017.85" r="3.4"/>
<circle cx="732.82" cy="1017.73" r="3.4"/>
<circle cx="753.63" cy="1017.62" r="3.4"/>
<circle cx="774.45" cy="1017.51" r="3.4"/>
<circle cx="795.26" cy="1017.39" r="3.4"/>
<circle cx="816.07" cy="1017.26" r="3.4"/>
<circle cx="836.89" cy="1017.12" r="3.4"/>
<circle cx="857.7" cy="1016.98" r="3.4"/>
<circle cx="233.3" cy="1036.94" r="3.4"/>
<circle cx="254.11" cy="1036.98" r="3.4"/>
<circle cx="274.93" cy="1037.03" r="3.4"/>
<circle cx="295.74" cy="1037.07" r="3.4"/>
<circle cx="316.55" cy="1037.11" r="3.4"/>
<circle cx="337.37" cy="1037.15" r="3.4"/>
<circle cx="358.18" cy="1037.2" r="3.4"/>
<circle cx="378.99" cy="1037.26" r="3.4"/>
<circle cx="399.81" cy="1037.31" r="3.4"/>
<circle cx="420.62" cy="1037.35" r="3.4"/>
<circle cx="441.43" cy="1037.37" r="3.4"/>
<circle cx="462.25" cy="1037.37" r="3.4"/>
<circle cx="483.06" cy="1037.37" r="3.4"/>
<circle cx="503.87" cy="1037.37" r="3.4"/>
<circle cx="524.69" cy="1037.37" r="3.4"/>
<circle cx="545.5" cy="1037.37" r="3.4"/>
<circle cx="566.31" cy="1037.37" r="3.4"/>
<circle cx="587.13" cy="1037.37" r="3.4"/>
<circle cx="607.94" cy="1037.37" r="3.4"/>
<circle cx="628.75" cy="1037.37" r="3.4"/>
<circle cx="649.57" cy="1037.37" r="3.4"/>
<circle cx="670.38" cy="1037.35" r="3.4"/>
<circle cx="691.19" cy="1037.31" r="3.4"/>
<circle cx="712.01" cy="1037.26" r="3.4"/>
<circle cx="732.82" cy="1037.2" r="3.4"/>
<circle cx="753.63" cy="1037.15" r="3.4"/>
<circle cx="774.45" cy="1037.11" r="3.4"/>
<circle cx="795.26" cy="1037.07" r="3.4"/>
<circle cx="816.07" cy="1037.03" r="3.4"/>
<circle cx="836.89" cy="1036.98" r="3.4"/>
<circle cx="857.7" cy="1036.94" r="3.4"/>
<circle cx="233.3" cy="1047.67" r="3.4"/>
<circle cx="254.11" cy="1047.63" r="3.4"/>
<circle cx="274.93" cy="1047.59" r="3.4"/>
<circle cx="295.74" cy="1047.54" r="3.4"/>
<circle cx="316.55" cy="1047.5" r="3.4"/>
<circle cx="337.37" cy="1047.46" r="3.4"/>
<circle cx="358.18" cy="1047.41" r="3.4"/>
<circle cx="378.99" cy="1047.35" r="3.4"/>
<circle cx="399.81" cy="1047.3" r="3.4"/>
<circle cx="420.62" cy="1047.26" r="3.4"/>
<circle cx="441.43" cy="1047.24" r="3.4"/>
<circle cx="462.25" cy="1047.24" r="3.4"/>
<circle cx="483.06" cy="1047.24" r="3.4"/>
<circle cx="503.87" cy="1047.24" r="3.4"/>
<circle cx="524.69" cy="1047.24" r="3.4"/>
<circle cx="545.5" cy="1047.24" r="3.4"/>
<circle cx="566.31" cy="1047.24" r="3.4"/>
<circle cx="587.13" cy="1047.24" r="3.4"/>
<circle cx="607.94" cy="1047.24" r="3.4"/>
<circle cx="628.75" cy="1047.24" r="3.4"/>
<circle cx="649.57" cy="1047.24" r="3.4"/>
<circle cx="670.38" cy="1047.26" r="3.4"/>
<circle cx="691.19" cy="1047.3" r="3.4"/>
<circle cx="712.01" cy="1047.35" r="3.4"/>
<circle cx="732.82" cy="1047.41" r="3.4"/>
<circle cx="753.63" cy="1047.46" r="3.4"/>
<circle cx="774.45" cy="1047.5" r="3.4"/>
<circle cx="795.26" cy="1047.54" r="3.4"/>
<circle cx="816.07" cy="1047.59" r="3.4"/>
<circle cx="836.89" cy="1047.63" r="3.4"/>
<circle cx="857.7" cy="1047.67" r="3.4"/>
<circle cx="233.3" cy="1118.83" r="3.4"/>
<circle cx="254.11" cy="1118.83" r="3.4"/>
<circle cx="274.93" cy="1118.83" r="3.4"/>
<circle cx="295.74" cy="1118.83" r="3.4"/>
<circle cx="316.55" cy="1118.83" r="3.4"/>
<circle cx="337.37" cy="1118.83" r="3.4"/>
<circle cx="358.18" cy="1118.83" r="3.4"/>
<circle cx="378.99" cy="1118.83" r="3.4"/>
<circle cx="399.81" cy="1118.83" r="3.4"/>
<circle cx="420.62" cy="1118.83" r="3.4"/>
<circle cx="441.43" cy="1118.83" r="3.4"/>
<circle cx="462.25" cy="1118.83" r="3.4"/>
<circle cx="483.06" cy="1118.83" r="3.4"/>
<circle cx="503.87" cy="1118.83" r="3.4"/>
<circle cx="524.69" cy="1118.83" r="3.4"/>
<circle cx="545.5" cy="1118.83" r="3.4"/>
<circle cx="566.31" cy="1118.83" r="3.4"/>
<circle cx="587.13" cy="1118.83" r="3.4"/>
<circle cx="607.94" cy="1118.83" r="3.4"/>
<circle cx="628.75" cy="1118.56" r="3.4"/>
<circle cx="649.57" cy="1118.29" r="3.4"/>
<circle cx="670.38" cy="1118.56" r="3.4"/>
<circle cx="691.19" cy="1118.83" r="3.4"/>
<circle cx="712.01" cy="1118.83" r="3.4"/>
<circle cx="732.82" cy="1118.83" r="3.4"/>
<circle cx="753.63" cy="1118.83" r="3.4"/>
<circle cx="774.45" cy="1118.83" r="3.4"/>
<circle cx="795.26" cy="1118.83" r="3.4"/>
<circle cx="816.07" cy="1118.83" r="3.4"/>
<circle cx="836.89" cy="1118.83" r="3.4"/>
<circle cx="857.7" cy="1118.83" r="3.4"/>
<circle cx="233.3" cy="1120.44" r="3.4"/>
<circle cx="254.11" cy="1120.44" r="3.4"/>
<circle cx="274.93" cy="1120.44" r="3.4"/>
<circle cx="295.74" cy="1120.17" r="3.4"/>
<circle cx="316.55" cy="1119.9" r="3.4"/>
<circle cx="337.37" cy="1119.9" r="3.4"/>
<circle cx="358.18" cy="1119.9" r="3.4"/>
<circle cx="378.99" cy="1119.9" r="3.4"/>
<circle cx="399.81" cy="1119.9" r="3.4"/>
<circle cx="420.62" cy="1119.9" r="3.4"/>
<circle cx="441.43" cy="1119.9" r="3.4"/>
<circle cx="462.25" cy="1120.17" r="3.4"/>
<circle cx="483.06" cy="1120.44" r="3.4"/>
<circle cx="503.87" cy="1120.44" r="3.4"/>
<circle cx="524.69" cy="1120.44" r="3.4"/>
<circle cx="545.5" cy="1120.84" r="3.4"/>
<circle cx="566.31" cy="1121.24" r="3.4"/>
<circle cx="587.13" cy="1121.17" r="3.4"/>
<circle cx="607.94" cy="1120.98" r="3.4"/>
<circle cx="628.75" cy="1119.57" r="3.4"/>
<circle cx="649.57" cy="1118.29" r="3.4"/>
<circle cx="670.38" cy="1119.9" r="3.4"/>
<circle cx="691.19" cy="1121.51" r="3.4"/>
<circle cx="712.01" cy="1120.71" r="3.4"/>
<circle cx="732.82" cy="1119.9" r="3.4"/>
<circle cx="753.63" cy="1119.9" r="3.4"/>
<circle cx="774.45" cy="1119.9" r="3.4"/>
<circle cx="795.26" cy="1119.9" r="3.4"/>
<circle cx="816.07" cy="1119.9" r="3.4"/>
<circle cx="836.89" cy="1120.07" r="3.4"/>
<circle cx="857.7" cy="1120.44" r="3.4"/>
<circle cx="233.3" cy="1122.05" r="3.4"/>
<circle cx="254.11" cy="1122.05" r="3.4"/>
<circle cx="274.93" cy="1122.05" r="3.4"/>
<circle cx="295.74" cy="1121.51" r="3.4"/>
<circle cx="316.55" cy="1120.98" r="3.4"/>
<circle cx="337.37" cy="1120.98" r="3.4"/>
<circle cx="358.18" cy="1120.98" r="3.4"/>
<circle cx="378.99" cy="1120.98" r="3.4"/>
<circle cx="399.81" cy="1120.98" r="3.4"/>
<circle cx="420.62" cy="1120.98" r="3.4"/>
<circle cx="441.43" cy="1120.98" r="3.4"/>
<circle cx="462.25" cy="1121.51" r="3.4"/>
<circle cx="483.06" cy="1122.05" r="3.4"/>
<circle cx="503.87" cy="1122.05" r="3.4"/>
<circle cx="524.69" cy="1122.05" r="3.4"/>
<circle cx="545.5" cy="1122.85" r="3.4"/>
<circle cx="566.31" cy="1123.66" r="3.4"/>
<circle cx="587.13" cy="1123.51" r="3.4"/>
<circle cx="607.94" cy="1123.12" r="3.4"/>
<circle cx="628.75" cy="1120.59" r="3.4"/>
<circle cx="649.57" cy="1118.29" r="3.4"/>
<circle cx="670.38" cy="1121.24" r="3.4"/>
<circle cx="691.19" cy="1124.2" r="3.4"/>
<circle cx="712.01" cy="1122.59" r="3.4"/>
<circle cx="732.82" cy="1120.98" r="3.4"/>
<circle cx="753.63" cy="1120.98" r="3.4"/>
<circle cx="774.45" cy="1120.98" r="3.4"/>
<circle cx="795.26" cy="1120.98" r="3.4"/>
<circle cx="816.07" cy="1120.98" r="3.4"/>
<circle cx="836.89" cy="1121.31" r="3.4"/>
<circle cx="857.7" cy="1122.05" r="3.4"/>
<circle cx="233.3" cy="1134.07" r="3.4"/>
<circle cx="254.11" cy="1134.07" r="3.4"/>
<circle cx="274.93" cy="1134.07" r="3.4"/>
<circle cx="295.74" cy="1134.96" r="3.4"/>
<circle cx="316.55" cy="1136.22" r="3.4"/>
<circle cx="337.37" cy="1136.93" r="3.4"/>
<circle cx="358.18" cy="1137.29" r="3.4"/>
<circle cx="378.99" cy="1135.52" r="3.4"/>
<circle cx="399.81" cy="1133.75" r="3.4"/>
<circle cx="420.62" cy="1134.07" r="3.4"/>
<circle cx="441.43" cy="1134.39" r="3.4"/>
<circle cx="462.25" cy="1133.41" r="3.4"/>
<circle cx="483.06" cy="1132.25" r="3.4"/>
<circle cx="503.87" cy="1132.04" r="3.4"/>
<circle cx="524.69" cy="1131.82" r="3.4"/>
<circle cx="545.5" cy="1129.02" r="3.4"/>
<circle cx="566.31" cy="1126.07" r="3.4"/>
<circle cx="587.13" cy="1125.5" r="3.4"/>
<circle cx="607.94" cy="1125.27" r="3.4"/>
<circle cx="628.75" cy="1125.85" r="3.4"/>
<circle cx="649.57" cy="1126.56" r="3.4"/>
<circle cx="670.38" cy="1126.71" r="3.4"/>
<circle cx="691.19" cy="1126.88" r="3.4"/>
<circle cx="712.01" cy="1130.71" r="3.4"/>
<circle cx="732.82" cy="1134.39" r="3.4"/>
<circle cx="753.63" cy="1134.39" r="3.4"/>
<circle cx="774.45" cy="1134.39" r="3.4"/>
<circle cx="795.26" cy="1133.85" r="3.4"/>
<circle cx="816.07" cy="1133.32" r="3.4"/>
<circle cx="836.89" cy="1133.49" r="3.4"/>
<circle cx="857.7" cy="1134.07" r="3.4"/>
<circle cx="233.3" cy="1134.71" r="3.4"/>
<circle cx="254.11" cy="1134.71" r="3.4"/>
<circle cx="274.93" cy="1134.71" r="3.4"/>
<circle cx="295.74" cy="1135.61" r="3.4"/>
<circle cx="316.55" cy="1136.86" r="3.4"/>
<circle cx="337.37" cy="1137.35" r="3.4"/>
<circle cx="358.18" cy="1137.93" r="3.4"/>
<circle cx="378.99" cy="1140.55" r="3.4"/>
<circle cx="399.81" cy="1144.05" r="3.4"/>
<circle cx="420.62" cy="1147.14" r="3.4"/>
<circle cx="441.43" cy="1148.88" r="3.4"/>
<circle cx="462.25" cy="1148.88" r="3.4"/>
<circle cx="483.06" cy="1148.88" r="3.4"/>
<circle cx="503.87" cy="1148.88" r="3.4"/>
<circle cx="524.69" cy="1148.88" r="3.4"/>
<circle cx="545.5" cy="1138.94" r="3.4"/>
<circle cx="566.31" cy="1128.49" r="3.4"/>
<circle cx="587.13" cy="1127.74" r="3.4"/>
<circle cx="607.94" cy="1127.42" r="3.4"/>
<circle cx="628.75" cy="1127.26" r="3.4"/>
<circle cx="649.57" cy="1127.2" r="3.4"/>
<circle cx="670.38" cy="1127.9" r="3.4"/>
<circle cx="691.19" cy="1129.56" r="3.4"/>
<circle cx="712.01" cy="1135.14" r="3.4"/>
<circle cx="732.82" cy="1139.76" r="3.4"/>
<circle cx="753.63" cy="1139.5" r="3.4"/>
<circle cx="774.45" cy="1139.11" r="3.4"/>
<circle cx="795.26" cy="1138.93" r="3.4"/>
<circle cx="816.07" cy="1138.68" r="3.4"/>
<circle cx="836.89" cy="1137.32" r="3.4"/>
<circle cx="857.7" cy="1134.71" r="3.4"/>
<circle cx="233.3" cy="1151.56" r="3.4"/>
<circle cx="254.11" cy="1149.6" r="3.4"/>
<circle cx="274.93" cy="1147.7" r="3.4"/>
<circle cx="295.74" cy="1145.41" r="3.4"/>
<circle cx="316.55" cy="1144.05" r="3.4"/>
<circle cx="337.37" cy="1144.96" r="3.4"/>
<circle cx="358.18" cy="1146.84" r="3.4"/>
<circle cx="378.99" cy="1150.49" r="3.4"/>
<circle cx="399.81" cy="1153.17" r="3.4"/>
<circle cx="420.62" cy="1152.61" r="3.4"/>
<circle cx="441.43" cy="1152" r="3.4"/>
<circle cx="462.25" cy="1151.93" r="3.4"/>
<circle cx="483.06" cy="1151.88" r="3.4"/>
<circle cx="503.87" cy="1151.83" r="3.4"/>
<circle cx="524.69" cy="1151.74" r="3.4"/>
<circle cx="545.5" cy="1149.74" r="3.4"/>
<circle cx="566.31" cy="1147.81" r="3.4"/>
<circle cx="587.13" cy="1147.81" r="3.4"/>
<circle cx="607.94" cy="1147.81" r="3.4"/>
<circle cx="628.75" cy="1147.48" r="3.4"/>
<circle cx="649.57" cy="1146.73" r="3.4"/>
<circle cx="670.38" cy="1144.65" r="3.4"/>
<circle cx="691.19" cy="1142.98" r="3.4"/>
<circle cx="712.01" cy="1147.27" r="3.4"/>
<circle cx="732.82" cy="1151.56" r="3.4"/>
<circle cx="753.63" cy="1147.81" r="3.4"/>
<circle cx="774.45" cy="1144.05" r="3.4"/>
<circle cx="795.26" cy="1144.91" r="3.4"/>
<circle cx="816.07" cy="1146.63" r="3.4"/>
<circle cx="836.89" cy="1148.75" r="3.4"/>
<circle cx="857.7" cy="1151.56" r="3.4"/>
<circle cx="233.3" cy="1158.43" r="3.4"/>
<circle cx="254.11" cy="1160.53" r="3.4"/>
<circle cx="274.93" cy="1161.22" r="3.4"/>
<circle cx="295.74" cy="1159.77" r="3.4"/>
<circle cx="316.55" cy="1158.32" r="3.4"/>
<circle cx="337.37" cy="1158.32" r="3.4"/>
<circle cx="358.18" cy="1158.32" r="3.4"/>
<circle cx="378.99" cy="1157.49" r="3.4"/>
<circle cx="399.81" cy="1156.28" r="3.4"/>
<circle cx="420.62" cy="1155.57" r="3.4"/>
<circle cx="441.43" cy="1155.12" r="3.4"/>
<circle cx="462.25" cy="1154.99" r="3.4"/>
<circle cx="483.06" cy="1154.89" r="3.4"/>
<circle cx="503.87" cy="1154.78" r="3.4"/>
<circle cx="524.69" cy="1154.6" r="3.4"/>
<circle cx="545.5" cy="1153.18" r="3.4"/>
<circle cx="566.31" cy="1151.38" r="3.4"/>
<circle cx="587.13" cy="1150.42" r="3.4"/>
<circle cx="607.94" cy="1149.95" r="3.4"/>
<circle cx="628.75" cy="1149.95" r="3.4"/>
<circle cx="649.57" cy="1149.95" r="3.4"/>
<circle cx="670.38" cy="1152.38" r="3.4"/>
<circle cx="691.19" cy="1155.32" r="3.4"/>
<circle cx="712.01" cy="1156.1" r="3.4"/>
<circle cx="732.82" cy="1156.61" r="3.4"/>
<circle cx="753.63" cy="1157.04" r="3.4"/>
<circle cx="774.45" cy="1157.36" r="3.4"/>
<circle cx="795.26" cy="1157.52" r="3.4"/>
<circle cx="816.07" cy="1157.68" r="3.4"/>
<circle cx="836.89" cy="1157.99" r="3.4"/>
<circle cx="857.7" cy="1158.43" r="3.4"/>
<circle cx="233.3" cy="1159.07" r="3.4"/>
<circle cx="254.11" cy="1161.17" r="3.4"/>
<circle cx="274.93" cy="1161.87" r="3.4"/>
<circle cx="295.74" cy="1160.42" r="3.4"/>
<circle cx="316.55" cy="1158.97" r="3.4"/>
<circle cx="337.37" cy="1158.97" r="3.4"/>
<circle cx="358.18" cy="1158.97" r="3.4"/>
<circle cx="378.99" cy="1159.18" r="3.4"/>
<circle cx="399.81" cy="1159.4" r="3.4"/>
<circle cx="420.62" cy="1158.89" r="3.4"/>
<circle cx="441.43" cy="1158.25" r="3.4"/>
<circle cx="462.25" cy="1158.05" r="3.4"/>
<circle cx="483.06" cy="1157.89" r="3.4"/>
<circle cx="503.87" cy="1157.72" r="3.4"/>
<circle cx="524.69" cy="1157.47" r="3.4"/>
<circle cx="545.5" cy="1156.46" r="3.4"/>
<circle cx="566.31" cy="1154.96" r="3.4"/>
<circle cx="587.13" cy="1153.2" r="3.4"/>
<circle cx="607.94" cy="1152.1" r="3.4"/>
<circle cx="628.75" cy="1152.42" r="3.4"/>
<circle cx="649.57" cy="1153.17" r="3.4"/>
<circle cx="670.38" cy="1155.81" r="3.4"/>
<circle cx="691.19" cy="1158" r="3.4"/>
<circle cx="712.01" cy="1157.63" r="3.4"/>
<circle cx="732.82" cy="1157.25" r="3.4"/>
<circle cx="753.63" cy="1157.57" r="3.4"/>
<circle cx="774.45" cy="1158" r="3.4"/>
<circle cx="795.26" cy="1158.16" r="3.4"/>
<circle cx="816.07" cy="1158.32" r="3.4"/>
<circle cx="836.89" cy="1158.63" r="3.4"/>
<circle cx="857.7" cy="1159.07" r="3.4"/>
<circle cx="233.3" cy="1159.72" r="3.4"/>
<circle cx="254.11" cy="1160.68" r="3.4"/>
<circle cx="274.93" cy="1162.51" r="3.4"/>
<circle cx="295.74" cy="1166.33" r="3.4"/>
<circle cx="316.55" cy="1169.81" r="3.4"/>
<circle cx="337.37" cy="1170.94" r="3.4"/>
<circle cx="358.18" cy="1171.42" r="3.4"/>
<circle cx="378.99" cy="1167.22" r="3.4"/>
<circle cx="399.81" cy="1162.51" r="3.4"/>
<circle cx="420.62" cy="1161.77" r="3.4"/>
<circle cx="441.43" cy="1161.37" r="3.4"/>
<circle cx="462.25" cy="1161.05" r="3.4"/>
<circle cx="483.06" cy="1160.9" r="3.4"/>
<circle cx="503.87" cy="1163.21" r="3.4"/>
<circle cx="524.69" cy="1165.51" r="3.4"/>
<circle cx="545.5" cy="1162.03" r="3.4"/>
<circle cx="566.31" cy="1158.54" r="3.4"/>
<circle cx="587.13" cy="1160.42" r="3.4"/>
<circle cx="607.94" cy="1163.37" r="3.4"/>
<circle cx="628.75" cy="1165.77" r="3.4"/>
<circle cx="649.57" cy="1167.12" r="3.4"/>
<circle cx="670.38" cy="1163.9" r="3.4"/>
<circle cx="691.19" cy="1160.68" r="3.4"/>
<circle cx="712.01" cy="1164.71" r="3.4"/>
<circle cx="732.82" cy="1168.73" r="3.4"/>
<circle cx="753.63" cy="1163.69" r="3.4"/>
<circle cx="774.45" cy="1158.65" r="3.4"/>
<circle cx="795.26" cy="1162.08" r="3.4"/>
<circle cx="816.07" cy="1165.51" r="3.4"/>
<circle cx="836.89" cy="1164.13" r="3.4"/>
<circle cx="857.7" cy="1159.72" r="3.4"/>
<circle cx="233.3" cy="1183.76" r="3.4"/>
<circle cx="254.11" cy="1183.64" r="3.4"/>
<circle cx="274.93" cy="1183.33" r="3.4"/>
<circle cx="295.74" cy="1182.08" r="3.4"/>
<circle cx="316.55" cy="1180" r="3.4"/>
<circle cx="337.37" cy="1177.71" r="3.4"/>
<circle cx="358.18" cy="1174.77" r="3.4"/>
<circle cx="378.99" cy="1169.62" r="3.4"/>
<circle cx="399.81" cy="1165.62" r="3.4"/>
<circle cx="420.62" cy="1164.9" r="3.4"/>
<circle cx="441.43" cy="1164.49" r="3.4"/>
<circle cx="462.25" cy="1164.1" r="3.4"/>
<circle cx="483.06" cy="1163.9" r="3.4"/>
<circle cx="503.87" cy="1169.81" r="3.4"/>
<circle cx="524.69" cy="1175.71" r="3.4"/>
<circle cx="545.5" cy="1172.22" r="3.4"/>
<circle cx="566.31" cy="1168.73" r="3.4"/>
<circle cx="587.13" cy="1171.15" r="3.4"/>
<circle cx="607.94" cy="1173.56" r="3.4"/>
<circle cx="628.75" cy="1171.77" r="3.4"/>
<circle cx="649.57" cy="1169.99" r="3.4"/>
<circle cx="670.38" cy="1171.29" r="3.4"/>
<circle cx="691.19" cy="1173.56" r="3.4"/>
<circle cx="712.01" cy="1176.2" r="3.4"/>
<circle cx="732.82" cy="1177.86" r="3.4"/>
<circle cx="753.63" cy="1176.78" r="3.4"/>
<circle cx="774.45" cy="1175.71" r="3.4"/>
<circle cx="795.26" cy="1179.26" r="3.4"/>
<circle cx="816.07" cy="1183.11" r="3.4"/>
<circle cx="836.89" cy="1183.58" r="3.4"/>
<circle cx="857.7" cy="1183.76" r="3.4"/>
<circle cx="233.3" cy="1197.17" r="3.4"/>
<circle cx="254.11" cy="1195.58" r="3.4"/>
<circle cx="274.93" cy="1192.88" r="3.4"/>
<circle cx="295.74" cy="1188.03" r="3.4"/>
<circle cx="316.55" cy="1183.04" r="3.4"/>
<circle cx="337.37" cy="1180.57" r="3.4"/>
<circle cx="358.18" cy="1178.12" r="3.4"/>
<circle cx="378.99" cy="1172.87" r="3.4"/>
<circle cx="399.81" cy="1168.73" r="3.4"/>
<circle cx="420.62" cy="1167.92" r="3.4"/>
<circle cx="441.43" cy="1167.61" r="3.4"/>
<circle cx="462.25" cy="1170.51" r="3.4"/>
<circle cx="483.06" cy="1174.64" r="3.4"/>
<circle cx="503.87" cy="1177.13" r="3.4"/>
<circle cx="524.69" cy="1178.39" r="3.4"/>
<circle cx="545.5" cy="1178.22" r="3.4"/>
<circle cx="566.31" cy="1177.86" r="3.4"/>
<circle cx="587.13" cy="1177.39" r="3.4"/>
<circle cx="607.94" cy="1176.65" r="3.4"/>
<circle cx="628.75" cy="1174.52" r="3.4"/>
<circle cx="649.57" cy="1172.85" r="3.4"/>
<circle cx="670.38" cy="1174.07" r="3.4"/>
<circle cx="691.19" cy="1176.25" r="3.4"/>
<circle cx="712.01" cy="1178.87" r="3.4"/>
<circle cx="732.82" cy="1180.54" r="3.4"/>
<circle cx="753.63" cy="1180.48" r="3.4"/>
<circle cx="774.45" cy="1180.41" r="3.4"/>
<circle cx="795.26" cy="1187.25" r="3.4"/>
<circle cx="816.07" cy="1195.03" r="3.4"/>
<circle cx="836.89" cy="1196.57" r="3.4"/>
<circle cx="857.7" cy="1197.17" r="3.4"/>
<circle cx="233.3" cy="1200.48" r="3.4"/>
<circle cx="254.11" cy="1199.15" r="3.4"/>
<circle cx="274.93" cy="1196.55" r="3.4"/>
<circle cx="295.74" cy="1191.4" r="3.4"/>
<circle cx="316.55" cy="1186.08" r="3.4"/>
<circle cx="337.37" cy="1183.76" r="3.4"/>
<circle cx="358.18" cy="1181.48" r="3.4"/>
<circle cx="378.99" cy="1176.13" r="3.4"/>
<circle cx="399.81" cy="1171.85" r="3.4"/>
<circle cx="420.62" cy="1171.04" r="3.4"/>
<circle cx="441.43" cy="1170.73" r="3.4"/>
<circle cx="462.25" cy="1173.33" r="3.4"/>
<circle cx="483.06" cy="1177.14" r="3.4"/>
<circle cx="503.87" cy="1179.72" r="3.4"/>
<circle cx="524.69" cy="1181.08" r="3.4"/>
<circle cx="545.5" cy="1180.98" r="3.4"/>
<circle cx="566.31" cy="1180.77" r="3.4"/>
<circle cx="587.13" cy="1180.4" r="3.4"/>
<circle cx="607.94" cy="1179.73" r="3.4"/>
<circle cx="628.75" cy="1177.52" r="3.4"/>
<circle cx="649.57" cy="1175.71" r="3.4"/>
<circle cx="670.38" cy="1176.86" r="3.4"/>
<circle cx="691.19" cy="1178.93" r="3.4"/>
<circle cx="712.01" cy="1181.21" r="3.4"/>
<circle cx="732.82" cy="1183.22" r="3.4"/>
<circle cx="753.63" cy="1184.08" r="3.4"/>
<circle cx="774.45" cy="1185.12" r="3.4"/>
<circle cx="795.26" cy="1191.8" r="3.4"/>
<circle cx="816.07" cy="1198.51" r="3.4"/>
<circle cx="836.89" cy="1199.93" r="3.4"/>
<circle cx="857.7" cy="1200.48" r="3.4"/>
<circle cx="233.3" cy="1203.79" r="3.4"/>
<circle cx="254.11" cy="1202.68" r="3.4"/>
<circle cx="274.93" cy="1200.21" r="3.4"/>
<circle cx="295.74" cy="1194.77" r="3.4"/>
<circle cx="316.55" cy="1189.12" r="3.4"/>
<circle cx="337.37" cy="1186.95" r="3.4"/>
<circle cx="358.18" cy="1184.83" r="3.4"/>
<circle cx="378.99" cy="1179.39" r="3.4"/>
<circle cx="399.81" cy="1174.96" r="3.4"/>
<circle cx="420.62" cy="1174.16" r="3.4"/>
<circle cx="441.43" cy="1173.86" r="3.4"/>
<circle cx="462.25" cy="1175.72" r="3.4"/>
<circle cx="483.06" cy="1179.64" r="3.4"/>
<circle cx="503.87" cy="1187.83" r="3.4"/>
<circle cx="524.69" cy="1193.95" r="3.4"/>
<circle cx="545.5" cy="1189.02" r="3.4"/>
<circle cx="566.31" cy="1183.68" r="3.4"/>
<circle cx="587.13" cy="1183.23" r="3.4"/>
<circle cx="607.94" cy="1182.82" r="3.4"/>
<circle cx="628.75" cy="1180.52" r="3.4"/>
<circle cx="649.57" cy="1178.57" r="3.4"/>
<circle cx="670.38" cy="1179.65" r="3.4"/>
<circle cx="691.19" cy="1181.61" r="3.4"/>
<circle cx="712.01" cy="1183.69" r="3.4"/>
<circle cx="732.82" cy="1185.9" r="3.4"/>
<circle cx="753.63" cy="1187.64" r="3.4"/>
<circle cx="774.45" cy="1189.83" r="3.4"/>
<circle cx="795.26" cy="1196.27" r="3.4"/>
<circle cx="816.07" cy="1202" r="3.4"/>
<circle cx="836.89" cy="1203.29" r="3.4"/>
<circle cx="857.7" cy="1203.79" r="3.4"/>
<circle cx="233.3" cy="1207.1" r="3.4"/>
<circle cx="254.11" cy="1206.12" r="3.4"/>
<circle cx="274.93" cy="1203.88" r="3.4"/>
<circle cx="295.74" cy="1198.13" r="3.4"/>
<circle cx="316.55" cy="1192.16" r="3.4"/>
<circle cx="337.37" cy="1190.15" r="3.4"/>
<circle cx="358.18" cy="1188.19" r="3.4"/>
<circle cx="378.99" cy="1182.66" r="3.4"/>
<circle cx="399.81" cy="1178.07" r="3.4"/>
<circle cx="420.62" cy="1177.28" r="3.4"/>
<circle cx="441.43" cy="1176.98" r="3.4"/>
<circle cx="462.25" cy="1178.61" r="3.4"/>
<circle cx="483.06" cy="1182.15" r="3.4"/>
<circle cx="503.87" cy="1190.25" r="3.4"/>
<circle cx="524.69" cy="1196.46" r="3.4"/>
<circle cx="545.5" cy="1191.69" r="3.4"/>
<circle cx="566.31" cy="1186.59" r="3.4"/>
<circle cx="587.13" cy="1186.24" r="3.4"/>
<circle cx="607.94" cy="1185.9" r="3.4"/>
<circle cx="628.75" cy="1183.52" r="3.4"/>
<circle cx="649.57" cy="1181.43" r="3.4"/>
<circle cx="670.38" cy="1182.43" r="3.4"/>
<circle cx="691.19" cy="1184.29" r="3.4"/>
<circle cx="712.01" cy="1186.25" r="3.4"/>
<circle cx="732.82" cy="1188.59" r="3.4"/>
<circle cx="753.63" cy="1191.22" r="3.4"/>
<circle cx="774.45" cy="1194.53" r="3.4"/>
<circle cx="795.26" cy="1200.62" r="3.4"/>
<circle cx="816.07" cy="1205.49" r="3.4"/>
<circle cx="836.89" cy="1206.65" r="3.4"/>
<circle cx="857.7" cy="1207.1" r="3.4"/>
<circle cx="233.3" cy="1210.41" r="3.4"/>
<circle cx="254.11" cy="1209.56" r="3.4"/>
<circle cx="274.93" cy="1207.55" r="3.4"/>
<circle cx="295.74" cy="1201.5" r="3.4"/>
<circle cx="316.55" cy="1195.21" r="3.4"/>
<circle cx="337.37" cy="1193.34" r="3.4"/>
<circle cx="358.18" cy="1191.54" r="3.4"/>
<circle cx="378.99" cy="1185.93" r="3.4"/>
<circle cx="399.81" cy="1181.18" r="3.4"/>
<circle cx="420.62" cy="1180.4" r="3.4"/>
<circle cx="441.43" cy="1180.1" r="3.4"/>
<circle cx="462.25" cy="1189.71" r="3.4"/>
<circle cx="483.06" cy="1199.32" r="3.4"/>
<circle cx="503.87" cy="1199.23" r="3.4"/>
<circle cx="524.69" cy="1198.96" r="3.4"/>
<circle cx="545.5" cy="1194.27" r="3.4"/>
<circle cx="566.31" cy="1189.51" r="3.4"/>
<circle cx="587.13" cy="1189.24" r="3.4"/>
<circle cx="607.94" cy="1188.99" r="3.4"/>
<circle cx="628.75" cy="1186.53" r="3.4"/>
<circle cx="649.57" cy="1184.29" r="3.4"/>
<circle cx="670.38" cy="1189.39" r="3.4"/>
<circle cx="691.19" cy="1194.49" r="3.4"/>
<circle cx="712.01" cy="1192.88" r="3.4"/>
<circle cx="732.82" cy="1191.27" r="3.4"/>
<circle cx="753.63" cy="1194.16" r="3.4"/>
<circle cx="774.45" cy="1199.24" r="3.4"/>
<circle cx="795.26" cy="1204.89" r="3.4"/>
<circle cx="816.07" cy="1208.98" r="3.4"/>
<circle cx="836.89" cy="1210.01" r="3.4"/>
<circle cx="857.7" cy="1210.41" r="3.4"/>
<circle cx="233.3" cy="1213.72" r="3.4"/>
<circle cx="254.11" cy="1212.99" r="3.4"/>
<circle cx="274.93" cy="1211.21" r="3.4"/>
<circle cx="295.74" cy="1204.87" r="3.4"/>
<circle cx="316.55" cy="1198.25" r="3.4"/>
<circle cx="337.37" cy="1196.54" r="3.4"/>
<circle cx="358.18" cy="1194.89" r="3.4"/>
<circle cx="378.99" cy="1189.2" r="3.4"/>
<circle cx="399.81" cy="1184.29" r="3.4"/>
<circle cx="420.62" cy="1183.51" r="3.4"/>
<circle cx="441.43" cy="1183.22" r="3.4"/>
<circle cx="462.25" cy="1192.61" r="3.4"/>
<circle cx="483.06" cy="1202" r="3.4"/>
<circle cx="503.87" cy="1201.86" r="3.4"/>
<circle cx="524.69" cy="1201.47" r="3.4"/>
<circle cx="545.5" cy="1196.9" r="3.4"/>
<circle cx="566.31" cy="1192.42" r="3.4"/>
<circle cx="587.13" cy="1192.16" r="3.4"/>
<circle cx="607.94" cy="1192.08" r="3.4"/>
<circle cx="628.75" cy="1193.5" r="3.4"/>
<circle cx="649.57" cy="1196.64" r="3.4"/>
<circle cx="670.38" cy="1204.47" r="3.4"/>
<circle cx="691.19" cy="1210.59" r="3.4"/>
<circle cx="712.01" cy="1202.27" r="3.4"/>
<circle cx="732.82" cy="1193.95" r="3.4"/>
<circle cx="753.63" cy="1197.8" r="3.4"/>
<circle cx="774.45" cy="1203.94" r="3.4"/>
<circle cx="795.26" cy="1209.08" r="3.4"/>
<circle cx="816.07" cy="1212.47" r="3.4"/>
<circle cx="836.89" cy="1213.37" r="3.4"/>
<circle cx="857.7" cy="1213.72" r="3.4"/>
<circle cx="233.3" cy="1217.03" r="3.4"/>
<circle cx="254.11" cy="1216.36" r="3.4"/>
<circle cx="274.93" cy="1214.88" r="3.4"/>
<circle cx="295.74" cy="1212" r="3.4"/>
<circle cx="316.55" cy="1207.91" r="3.4"/>
<circle cx="337.37" cy="1202.26" r="3.4"/>
<circle cx="358.18" cy="1198.25" r="3.4"/>
<circle cx="378.99" cy="1197.62" r="3.4"/>
<circle cx="399.81" cy="1197.39" r="3.4"/>
<circle cx="420.62" cy="1197.8" r="3.4"/>
<circle cx="441.43" cy="1198.78" r="3.4"/>
<circle cx="462.25" cy="1202.02" r="3.4"/>
<circle cx="483.06" cy="1204.69" r="3.4"/>
<circle cx="503.87" cy="1204.49" r="3.4"/>
<circle cx="524.69" cy="1203.97" r="3.4"/>
<circle cx="545.5" cy="1199.53" r="3.4"/>
<circle cx="566.31" cy="1195.33" r="3.4"/>
<circle cx="587.13" cy="1195.2" r="3.4"/>
<circle cx="607.94" cy="1195.16" r="3.4"/>
<circle cx="628.75" cy="1202.44" r="3.4"/>
<circle cx="649.57" cy="1212.2" r="3.4"/>
<circle cx="670.38" cy="1216.92" r="3.4"/>
<circle cx="691.19" cy="1219.17" r="3.4"/>
<circle cx="712.01" cy="1212.73" r="3.4"/>
<circle cx="732.82" cy="1206.3" r="3.4"/>
<circle cx="753.63" cy="1207.03" r="3.4"/>
<circle cx="774.45" cy="1208.65" r="3.4"/>
<circle cx="795.26" cy="1212.51" r="3.4"/>
<circle cx="816.07" cy="1215.95" r="3.4"/>
<circle cx="836.89" cy="1216.72" r="3.4"/>
<circle cx="857.7" cy="1217.03" r="3.4"/>
<circle cx="233.3" cy="1220.34" r="3.4"/>
<circle cx="254.11" cy="1219.8" r="3.4"/>
<circle cx="274.93" cy="1218.55" r="3.4"/>
<circle cx="295.74" cy="1214.87" r="3.4"/>
<circle cx="316.55" cy="1210.86" r="3.4"/>
<circle cx="337.37" cy="1209.42" r="3.4"/>
<circle cx="358.18" cy="1207.91" r="3.4"/>
<circle cx="378.99" cy="1202.4" r="3.4"/>
<circle cx="399.81" cy="1198.03" r="3.4"/>
<circle cx="420.62" cy="1201.56" r="3.4"/>
<circle cx="441.43" cy="1205.76" r="3.4"/>
<circle cx="462.25" cy="1206.9" r="3.4"/>
<circle cx="483.06" cy="1207.37" r="3.4"/>
<circle cx="503.87" cy="1207.12" r="3.4"/>
<circle cx="524.69" cy="1206.47" r="3.4"/>
<circle cx="545.5" cy="1202.16" r="3.4"/>
<circle cx="566.31" cy="1198.25" r="3.4"/>
<circle cx="587.13" cy="1198.25" r="3.4"/>
<circle cx="607.94" cy="1198.25" r="3.4"/>
<circle cx="628.75" cy="1204.54" r="3.4"/>
<circle cx="649.57" cy="1214.7" r="3.4"/>
<circle cx="670.38" cy="1223.91" r="3.4"/>
<circle cx="691.19" cy="1229.26" r="3.4"/>
<circle cx="712.01" cy="1223.51" r="3.4"/>
<circle cx="732.82" cy="1216.49" r="3.4"/>
<circle cx="753.63" cy="1214.29" r="3.4"/>
<circle cx="774.45" cy="1213.35" r="3.4"/>
<circle cx="795.26" cy="1216.2" r="3.4"/>
<circle cx="816.07" cy="1219.44" r="3.4"/>
<circle cx="836.89" cy="1220.08" r="3.4"/>
<circle cx="857.7" cy="1220.34" r="3.4"/>
<circle cx="233.3" cy="1223.65" r="3.4"/>
<circle cx="254.11" cy="1223.24" r="3.4"/>
<circle cx="274.93" cy="1222.21" r="3.4"/>
<circle cx="295.74" cy="1218.17" r="3.4"/>
<circle cx="316.55" cy="1213.81" r="3.4"/>
<circle cx="337.37" cy="1212.49" r="3.4"/>
<circle cx="358.18" cy="1211.39" r="3.4"/>
<circle cx="378.99" cy="1209.29" r="3.4"/>
<circle cx="399.81" cy="1207.91" r="3.4"/>
<circle cx="420.62" cy="1208.31" r="3.4"/>
<circle cx="441.43" cy="1208.98" r="3.4"/>
<circle cx="462.25" cy="1209.65" r="3.4"/>
<circle cx="483.06" cy="1210.05" r="3.4"/>
<circle cx="503.87" cy="1209.51" r="3.4"/>
<circle cx="524.69" cy="1208.98" r="3.4"/>
<circle cx="545.5" cy="1208.98" r="3.4"/>
<circle cx="566.31" cy="1208.98" r="3.4"/>
<circle cx="587.13" cy="1210.1" r="3.4"/>
<circle cx="607.94" cy="1212.2" r="3.4"/>
<circle cx="628.75" cy="1214.25" r="3.4"/>
<circle cx="649.57" cy="1217.21" r="3.4"/>
<circle cx="670.38" cy="1225.9" r="3.4"/>
<circle cx="691.19" cy="1232.7" r="3.4"/>
<circle cx="712.01" cy="1227.15" r="3.4"/>
<circle cx="732.82" cy="1220.57" r="3.4"/>
<circle cx="753.63" cy="1218.79" r="3.4"/>
<circle cx="774.45" cy="1218.06" r="3.4"/>
<circle cx="795.26" cy="1220.34" r="3.4"/>
<circle cx="816.07" cy="1222.93" r="3.4"/>
<circle cx="836.89" cy="1223.44" r="3.4"/>
<circle cx="857.7" cy="1223.65" r="3.4"/>
<circle cx="233.3" cy="1226.95" r="3.4"/>
<circle cx="254.11" cy="1226.66" r="3.4"/>
<circle cx="274.93" cy="1225.88" r="3.4"/>
<circle cx="295.74" cy="1221.47" r="3.4"/>
<circle cx="316.55" cy="1216.76" r="3.4"/>
<circle cx="337.37" cy="1215.75" r="3.4"/>
<circle cx="358.18" cy="1214.88" r="3.4"/>
<circle cx="378.99" cy="1212.55" r="3.4"/>
<circle cx="399.81" cy="1210.86" r="3.4"/>
<circle cx="420.62" cy="1211.43" r="3.4"/>
<circle cx="441.43" cy="1212.2" r="3.4"/>
<circle cx="462.25" cy="1212.43" r="3.4"/>
<circle cx="483.06" cy="1212.73" r="3.4"/>
<circle cx="503.87" cy="1217.69" r="3.4"/>
<circle cx="524.69" cy="1222.39" r="3.4"/>
<circle cx="545.5" cy="1216.76" r="3.4"/>
<circle cx="566.31" cy="1211.12" r="3.4"/>
<circle cx="587.13" cy="1212.6" r="3.4"/>
<circle cx="607.94" cy="1215.15" r="3.4"/>
<circle cx="628.75" cy="1217.09" r="3.4"/>
<circle cx="649.57" cy="1219.71" r="3.4"/>
<circle cx="670.38" cy="1228.15" r="3.4"/>
<circle cx="712.01" cy="1230.14" r="3.4"/>
<circle cx="732.82" cy="1224.65" r="3.4"/>
<circle cx="753.63" cy="1223.31" r="3.4"/>
<circle cx="774.45" cy="1222.76" r="3.4"/>
<circle cx="795.26" cy="1224.47" r="3.4"/>
<circle cx="816.07" cy="1226.42" r="3.4"/>
<circle cx="836.89" cy="1226.8" r="3.4"/>
<circle cx="857.7" cy="1226.95" r="3.4"/>
<circle cx="233.3" cy="1230.26" r="3.4"/>
<circle cx="254.11" cy="1230.07" r="3.4"/>
<circle cx="274.93" cy="1229.55" r="3.4"/>
<circle cx="295.74" cy="1224.76" r="3.4"/>
<circle cx="316.55" cy="1219.71" r="3.4"/>
<circle cx="337.37" cy="1219" r="3.4"/>
<circle cx="358.18" cy="1218.37" r="3.4"/>
<circle cx="378.99" cy="1215.83" r="3.4"/>
<circle cx="399.81" cy="1213.81" r="3.4"/>
<circle cx="420.62" cy="1214.61" r="3.4"/>
<circle cx="441.43" cy="1215.42" r="3.4"/>
<circle cx="462.25" cy="1215.42" r="3.4"/>
<circle cx="483.06" cy="1215.42" r="3.4"/>
<circle cx="503.87" cy="1222.98" r="3.4"/>
<circle cx="524.69" cy="1230.55" r="3.4"/>
<circle cx="545.5" cy="1221.91" r="3.4"/>
<circle cx="566.31" cy="1213.27" r="3.4"/>
<circle cx="587.13" cy="1214.84" r="3.4"/>
<circle cx="607.94" cy="1218.1" r="3.4"/>
<circle cx="628.75" cy="1223.38" r="3.4"/>
<circle cx="649.57" cy="1229.26" r="3.4"/>
<circle cx="712.01" cy="1233.13" r="3.4"/>
<circle cx="732.82" cy="1228.73" r="3.4"/>
<circle cx="753.63" cy="1227.83" r="3.4"/>
<circle cx="774.45" cy="1227.47" r="3.4"/>
<circle cx="795.26" cy="1228.61" r="3.4"/>
<circle cx="816.07" cy="1229.91" r="3.4"/>
<circle cx="836.89" cy="1230.16" r="3.4"/>
<circle cx="857.7" cy="1230.26" r="3.4"/>
<circle cx="274.93" cy="1233.21" r="3.4"/>
<circle cx="295.74" cy="1231.8" r="3.4"/>
<circle cx="316.55" cy="1229.26" r="3.4"/>
<circle cx="337.37" cy="1225.67" r="3.4"/>
<circle cx="358.18" cy="1221.86" r="3.4"/>
<circle cx="378.99" cy="1218.55" r="3.4"/>
<circle cx="399.81" cy="1216.76" r="3.4"/>
<circle cx="420.62" cy="1224.08" r="3.4"/>
<circle cx="441.43" cy="1231.41" r="3.4"/>
<circle cx="462.25" cy="1227.44" r="3.4"/>
<circle cx="483.06" cy="1223.47" r="3.4"/>
<circle cx="503.87" cy="1228.51" r="3.4"/>
<circle cx="545.5" cy="1230.31" r="3.4"/>
<circle cx="566.31" cy="1225.61" r="3.4"/>
<circle cx="587.13" cy="1222.61" r="3.4"/>
<circle cx="607.94" cy="1221.05" r="3.4"/>
<circle cx="628.75" cy="1225.84" r="3.4"/>
<circle cx="649.57" cy="1232.7" r="3.4"/>
<circle cx="732.82" cy="1232.8" r="3.4"/>
<circle cx="753.63" cy="1232.35" r="3.4"/>
<circle cx="774.45" cy="1232.18" r="3.4"/>
<circle cx="795.26" cy="1232.75" r="3.4"/>
<circle cx="337.37" cy="1232.39" r="3.4"/>
<circle cx="358.18" cy="1229.91" r="3.4"/>
<circle cx="378.99" cy="1224.05" r="3.4"/>
<circle cx="399.81" cy="1219.71" r="3.4"/>
<circle cx="420.62" cy="1227.28" r="3.4"/>
<circle cx="483.06" cy="1232.7" r="3.4"/>
<circle cx="587.13" cy="1228.21" r="3.4"/>
<circle cx="607.94" cy="1224" r="3.4"/>
<circle cx="628.75" cy="1228.91" r="3.4"/>
<circle cx="233.3" cy="1196.21" r="3.4"/>
<circle cx="254.11" cy="1193.58" r="3.4"/>
<circle cx="274.93" cy="1193.2" r="3.4"/>
<circle cx="295.74" cy="1214.77" r="3.4"/>
<circle cx="795.26" cy="1215.31" r="3.4"/>
<circle cx="816.07" cy="1194.28" r="3.4"/>
<circle cx="836.89" cy="1194.52" r="3.4"/>
<circle cx="857.7" cy="1196.21" r="3.4"/>
<circle cx="233.3" cy="1200.18" r="3.4"/>
<circle cx="254.11" cy="1197.74" r="3.4"/>
<circle cx="274.93" cy="1197.39" r="3.4"/>
<circle cx="295.74" cy="1217.3" r="3.4"/>
<circle cx="795.26" cy="1217.78" r="3.4"/>
<circle cx="816.07" cy="1198.35" r="3.4"/>
<circle cx="836.89" cy="1198.58" r="3.4"/>
<circle cx="857.7" cy="1200.18" r="3.4"/>
<circle cx="233.3" cy="1204.15" r="3.4"/>
<circle cx="254.11" cy="1201.9" r="3.4"/>
<circle cx="274.93" cy="1201.57" r="3.4"/>
<circle cx="295.74" cy="1219.82" r="3.4"/>
<circle cx="795.26" cy="1220.25" r="3.4"/>
<circle cx="816.07" cy="1202.43" r="3.4"/>
<circle cx="836.89" cy="1202.65" r="3.4"/>
<circle cx="857.7" cy="1204.15" r="3.4"/>
<circle cx="233.3" cy="1208.12" r="3.4"/>
<circle cx="254.11" cy="1206.05" r="3.4"/>
<circle cx="274.93" cy="1205.76" r="3.4"/>
<circle cx="295.74" cy="1222.34" r="3.4"/>
<circle cx="795.26" cy="1222.72" r="3.4"/>
<circle cx="816.07" cy="1206.51" r="3.4"/>
<circle cx="836.89" cy="1206.71" r="3.4"/>
<circle cx="857.7" cy="1208.12" r="3.4"/>
<circle cx="233.3" cy="1212.09" r="3.4"/>
<circle cx="254.11" cy="1210.21" r="3.4"/>
<circle cx="274.93" cy="1209.94" r="3.4"/>
<circle cx="295.74" cy="1224.86" r="3.4"/>
<circle cx="795.26" cy="1225.18" r="3.4"/>
<circle cx="816.07" cy="1210.59" r="3.4"/>
<circle cx="836.89" cy="1210.78" r="3.4"/>
<circle cx="857.7" cy="1212.09" r="3.4"/>
<circle cx="233.3" cy="1216.06" r="3.4"/>
<circle cx="254.11" cy="1214.37" r="3.4"/>
<circle cx="274.93" cy="1214.13" r="3.4"/>
<circle cx="295.74" cy="1227.38" r="3.4"/>
<circle cx="795.26" cy="1227.65" r="3.4"/>
<circle cx="816.07" cy="1214.67" r="3.4"/>
<circle cx="836.89" cy="1214.84" r="3.4"/>
<circle cx="857.7" cy="1216.06" r="3.4"/>
<circle cx="233.3" cy="1220.03" r="3.4"/>
<circle cx="254.11" cy="1218.53" r="3.4"/>
<circle cx="274.93" cy="1218.32" r="3.4"/>
<circle cx="295.74" cy="1229.91" r="3.4"/>
<circle cx="795.26" cy="1230.12" r="3.4"/>
<circle cx="816.07" cy="1218.74" r="3.4"/>
<circle cx="836.89" cy="1218.91" r="3.4"/>
<circle cx="857.7" cy="1220.03" r="3.4"/>
<circle cx="233.3" cy="1224" r="3.4"/>
<circle cx="254.11" cy="1222.69" r="3.4"/>
<circle cx="274.93" cy="1222.5" r="3.4"/>
<circle cx="295.74" cy="1232.43" r="3.4"/>
<circle cx="795.26" cy="1232.59" r="3.4"/>
<circle cx="816.07" cy="1222.82" r="3.4"/>
<circle cx="836.89" cy="1222.97" r="3.4"/>
<circle cx="857.7" cy="1224" r="3.4"/>
<circle cx="233.3" cy="1227.97" r="3.4"/>
<circle cx="254.11" cy="1226.85" r="3.4"/>
<circle cx="274.93" cy="1226.69" r="3.4"/>
<circle cx="816.07" cy="1226.9" r="3.4"/>
<circle cx="836.89" cy="1227.03" r="3.4"/>
<circle cx="857.7" cy="1227.97" r="3.4"/>
</g></g>
<path d="M232 1229.3H859M232 731.8H859" stroke="#000" stroke-width="2.6" fill="none"/>
<path d="M233.3 1229.3H222.6M233.3 1167.11H227.6M233.3 1104.92H222.6M233.3 1042.74H227.6M233.3 980.55H222.6M233.3 918.36H227.6M233.3 856.17H222.6M233.3 793.99H227.6M233.3 731.8H222.6" stroke="#000" stroke-width="2.6" fill="none"/>
<g font-family='"Liberation Sans", "DejaVu Sans", sans-serif' font-size="44.4" text-anchor="end" fill="#000">
<text transform="translate(215 1242.3) scale(0.955 1)">0.6</text>
<text transform="translate(215 1117.92) scale(0.955 1)">0.7</text>
<text transform="translate(215 993.55) scale(0.955 1)">0.8</text>
<text transform="translate(215 869.17) scale(0.955 1)">0.9</text>
<text transform="translate(215 744.8) scale(0.955 1)">1.0</text>
</g>
<rect x="217.6" y="1025.5" width="653.4" height="33.9" fill="none" stroke="#ff0000" stroke-width="5.6"/>
<text x="-2.3" y="713.6" font-family='"Liberation Serif", "DejaVu Serif", serif' font-size="96.5" fill="#000">(b)</text>
<g transform="translate(136.2 1219) rotate(-90)" font-family='"Liberation Serif", "DejaVu Serif", serif' font-size="46" fill="#000">
<text x="0" y="0">Frequency</text>
<text x="204.3" y="0" textLength="35.8" lengthAdjust="spacingAndGlyphs">ω</text>
<text x="235.9" y="0">/<tspan dx="0.6">2π</tspan><tspan font-style="italic">c</tspan> <tspan dx="0.5" letter-spacing="0.15">[1/μm]</tspan></text>
</g>
<g font-family='"Liberation Serif", "DejaVu Serif", serif' font-size="42.3" fill="#000">
<text x="225.0" y="1285.9" textLength="27.3" lengthAdjust="spacingAndGlyphs">Γ</text>
<text x="424.2" y="1285.6">K</text>
<text x="637.9" y="1285.6">M</text>
<text x="843.1" y="1285.9" textLength="27.3" lengthAdjust="spacingAndGlyphs">Γ</text>
</g>
<path d="M865.1 807.1 C893.1 807.1 912 808.6 912 816.1 L912 953.05 C912 958.05 930 960.25 958.6 960.55 C930 960.85 912 963.05 912 968.05 L912 1105 C912 1112.5 893.1 1114 865.1 1114" fill="none" stroke="#000" stroke-width="3.7" stroke-linejoin="miter" stroke-miterlimit="10"/>
<text transform="translate(1009.5 1159.8) rotate(-90)" font-family='"Liberation Serif", "DejaVu Serif", serif' font-size="54.6" fill="#000" letter-spacing="0.2">Photonic bandgap</text>
</svg>
</body></html>
